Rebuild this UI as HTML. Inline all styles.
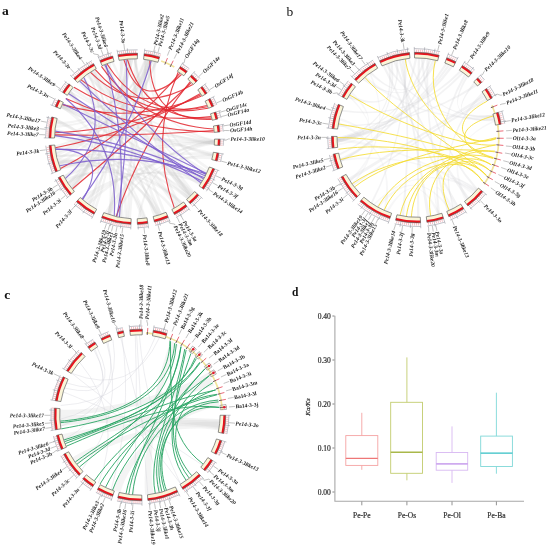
<!DOCTYPE html>
<html><head><meta charset="utf-8"><title>Figure</title>
<style>
html,body{margin:0;padding:0;background:#fff;}
body{width:550px;height:548px;overflow:hidden;}
svg{display:block;}
.lab text{font-family:"Liberation Serif",serif;font-style:italic;font-weight:bold;font-size:5.5px;fill:#222;}
.lab text.up{font-style:normal;}
.ax{font-family:"Liberation Serif",serif;font-size:7.5px;fill:#333;stroke:#333;stroke-width:0.22px;}
.axi{font-family:"Liberation Serif",serif;font-style:italic;font-size:7px;fill:#333;stroke:#333;stroke-width:0.2px;}
.pl{font-family:"Liberation Serif",serif;font-weight:bold;font-size:13.5px;fill:#111;}
</style></head><body>
<svg width="550" height="548" viewBox="0 0 550 548">
<rect width="550" height="548" fill="#fff"/>
<g>
<g class="lab">
<path d="M119.4,60.54 A79.7,79.7 0 0 1 122.46,60.01 Q128.27,138.34 110.95,214.94 A79.7,79.7 0 0 1 107.31,213.72 Q127.1,138.22 119.4,60.54 Z" fill="#c8c8c8" fill-opacity="0.2"/>
<path d="M123.01,59.93 A79.7,79.7 0 0 1 126.09,59.55 Q128.76,138.21 110.14,214.69 A79.7,79.7 0 0 1 107.49,213.78 Q127.76,138.12 123.01,59.93 Z" fill="#c8c8c8" fill-opacity="0.2"/>
<path d="M126.64,59.49 A79.7,79.7 0 0 1 129.73,59.24 Q143.59,134.68 191.22,194.79 A79.7,79.7 0 0 1 189.7,196.29 Q142.78,134.98 126.64,59.49 Z" fill="#c8c8c8" fill-opacity="0.2"/>
<path d="M130.29,59.21 A79.7,79.7 0 0 1 133.39,59.11 Q121.17,129.55 59.45,165.63 A79.7,79.7 0 0 1 58.43,162.59 Q120.45,129.04 130.29,59.21 Z" fill="#c8c8c8" fill-opacity="0.2"/>
<path d="M133.94,59.1 A79.7,79.7 0 0 1 137.05,59.14 Q133.92,138.77 128.65,218.29 A79.7,79.7 0 0 1 126.23,218.07 Q132.96,138.73 133.94,59.1 Z" fill="#c8c8c8" fill-opacity="0.2"/>
<path d="M143.8,59.64 A79.7,79.7 0 0 1 146.88,60.07 Q123.87,119.48 61.37,107.11 A79.7,79.7 0 0 1 63.01,103.58 Q123.62,118.78 143.8,59.64 Z" fill="#c8c8c8" fill-opacity="0.2"/>
<path d="M147.43,60.16 A79.7,79.7 0 0 1 150.49,60.72 Q125.29,132.23 65.87,179.32 A79.7,79.7 0 0 1 63.86,175.71 Q124.4,131.5 147.43,60.16 Z" fill="#c8c8c8" fill-opacity="0.2"/>
<path d="M151.03,60.83 A79.7,79.7 0 0 1 154.06,61.54 Q124.31,128.32 56.71,156.15 A79.7,79.7 0 0 1 56.02,152.7 Q123.66,127.59 151.03,60.83 Z" fill="#c8c8c8" fill-opacity="0.2"/>
<path d="M154.6,61.68 A79.7,79.7 0 0 1 157.59,62.52 Q127.03,133.32 68.72,183.8 A79.7,79.7 0 0 1 67.77,182.38 Q126.34,132.93 154.6,61.68 Z" fill="#c8c8c8" fill-opacity="0.2"/>
<path d="M214.2,139.4 A79.7,79.7 0 0 1 214.14,141.81 Q148.24,125.38 133.36,59.11 A79.7,79.7 0 0 1 135.12,59.1 Q148.56,124.96 214.2,139.4 Z" fill="#c8c8c8" fill-opacity="0.2"/>
<path d="M214.12,142.37 A79.7,79.7 0 0 1 213.98,144.78 Q137.07,131.73 69.69,92.41 A79.7,79.7 0 0 1 70.72,91 Q137.27,131.06 214.12,142.37 Z" fill="#c8c8c8" fill-opacity="0.2"/>
<path d="M213.02,152.48 A79.7,79.7 0 0 1 212.41,155.59 Q135.27,136.35 60.99,107.99 A79.7,79.7 0 0 1 62.27,105.11 Q135.6,135.3 213.02,152.48 Z" fill="#c8c8c8" fill-opacity="0.2"/>
<path d="M212.29,156.14 A79.7,79.7 0 0 1 211.54,159.23 Q140.12,153.9 89.58,204.64 A79.7,79.7 0 0 1 86.92,202.74 Q139.79,153.02 212.29,156.14 Z" fill="#c8c8c8" fill-opacity="0.2"/>
<path d="M208.99,167.14 A79.7,79.7 0 0 1 207.86,169.95 Q149.51,130.47 146.91,60.07 A79.7,79.7 0 0 1 149.68,60.56 Q150.19,130.07 208.99,167.14 Z" fill="#c8c8c8" fill-opacity="0.2"/>
<path d="M207.64,170.46 A79.7,79.7 0 0 1 206.39,173.21 Q139.3,133.25 90.05,72.65 A79.7,79.7 0 0 1 93.57,70.42 Q140.14,132.37 207.64,170.46 Z" fill="#c8c8c8" fill-opacity="0.2"/>
<path d="M206.15,173.71 A79.7,79.7 0 0 1 204.77,176.41 Q133.6,149.89 59.08,164.58 A79.7,79.7 0 0 1 58.32,162.24 Q133.71,149.01 206.15,173.71 Z" fill="#c8c8c8" fill-opacity="0.2"/>
<path d="M204.51,176.9 A79.7,79.7 0 0 1 203.01,179.53 Q132.91,149.11 56.9,156.99 A79.7,79.7 0 0 1 56.52,155.29 Q133.11,148.35 204.51,176.9 Z" fill="#c8c8c8" fill-opacity="0.2"/>
<path d="M202.72,180 A79.7,79.7 0 0 1 201.11,182.56 Q149.45,132.91 153.32,61.35 A79.7,79.7 0 0 1 155.9,62.03 Q150.18,132.58 202.72,180 Z" fill="#c8c8c8" fill-opacity="0.2"/>
<path d="M200.8,183.03 A79.7,79.7 0 0 1 199.08,185.51 Q132.9,141.67 60.78,108.51 A79.7,79.7 0 0 1 61.5,106.82 Q133.33,140.94 200.8,183.03 Z" fill="#c8c8c8" fill-opacity="0.2"/>
<path d="M194.21,191.59 A79.7,79.7 0 0 1 192.05,193.94 Q144.43,134.5 133.71,59.1 A79.7,79.7 0 0 1 135.91,59.11 Q145.2,134.09 194.21,191.59 Z" fill="#c8c8c8" fill-opacity="0.2"/>
<path d="M191.66,194.34 A79.7,79.7 0 0 1 189.39,196.59 Q144,134.97 133.91,59.1 A79.7,79.7 0 0 1 136.75,59.13 Q144.9,134.58 191.66,194.34 Z" fill="#c8c8c8" fill-opacity="0.2"/>
<path d="M188.98,196.97 A79.7,79.7 0 0 1 186.61,199.11 Q130.86,143.73 61.57,106.66 A79.7,79.7 0 0 1 62.71,104.19 Q131.47,142.92 188.98,196.97 Z" fill="#c8c8c8" fill-opacity="0.2"/>
<path d="M183.16,201.92 A79.7,79.7 0 0 1 180.81,203.66 Q129.37,154.56 58.9,164.02 A79.7,79.7 0 0 1 57.83,160.56 Q129.6,153.65 183.16,201.92 Z" fill="#c8c8c8" fill-opacity="0.2"/>
<path d="M180.36,203.98 A79.7,79.7 0 0 1 177.94,205.62 Q143.76,136.65 143.97,59.67 A79.7,79.7 0 0 1 146.4,59.99 Q144.61,136.42 180.36,203.98 Z" fill="#c8c8c8" fill-opacity="0.2"/>
<path d="M177.47,205.92 A79.7,79.7 0 0 1 174.98,207.46 Q129.96,143.1 68.11,94.71 A79.7,79.7 0 0 1 70.15,91.78 Q130.76,142.32 177.47,205.92 Z" fill="#c8c8c8" fill-opacity="0.2"/>
<path d="M174.5,207.74 A79.7,79.7 0 0 1 171.94,209.16 Q128.16,156.43 60.82,169.19 A79.7,79.7 0 0 1 59.58,165.98 Q128.39,155.62 174.5,207.74 Z" fill="#c8c8c8" fill-opacity="0.2"/>
<path d="M165.67,212.15 A79.7,79.7 0 0 1 163.05,213.21 Q134.13,138.95 103.86,65.22 A79.7,79.7 0 0 1 107.28,63.89 Q135.19,138.53 165.67,212.15 Z" fill="#c8c8c8" fill-opacity="0.2"/>
<path d="M162.53,213.41 A79.7,79.7 0 0 1 159.86,214.36 Q125.01,151.29 54.91,134.61 A79.7,79.7 0 0 1 55.11,131.83 Q125.51,150.64 162.53,213.41 Z" fill="#c8c8c8" fill-opacity="0.2"/>
<path d="M159.33,214.53 A79.7,79.7 0 0 1 156.63,215.37 Q125,156.15 58.06,161.37 A79.7,79.7 0 0 1 57.34,158.75 Q125.34,155.55 159.33,214.53 Z" fill="#c8c8c8" fill-opacity="0.2"/>
<path d="M156.1,215.52 A79.7,79.7 0 0 1 153.36,216.24 Q128.46,141.99 81.15,79.59 A79.7,79.7 0 0 1 83.2,77.8 Q129.3,141.55 156.1,215.52 Z" fill="#c8c8c8" fill-opacity="0.2"/>
<path d="M146.65,217.57 A79.7,79.7 0 0 1 143.98,217.93 Q122.49,149.86 56.4,122.89 A79.7,79.7 0 0 1 57.26,119.15 Q123.11,149.15 146.65,217.57 Z" fill="#c8c8c8" fill-opacity="0.2"/>
<path d="M143.43,218 A79.7,79.7 0 0 1 140.74,218.26 Q121.65,152.47 54.81,137.43 A79.7,79.7 0 0 1 54.99,133.27 Q122.15,151.69 143.43,218 Z" fill="#c8c8c8" fill-opacity="0.2"/>
<path d="M140.18,218.3 A79.7,79.7 0 0 1 137.49,218.44 Q148.96,153.25 214.15,141.73 A79.7,79.7 0 0 1 214,144.38 Q149.41,153.69 140.18,218.3 Z" fill="#c8c8c8" fill-opacity="0.2"/>
<path d="M130.93,218.42 A79.7,79.7 0 0 1 127.97,218.23 Q135.3,138.89 145.59,59.88 A79.7,79.7 0 0 1 147.34,60.14 Q136.12,138.97 130.93,218.42 Z" fill="#c8c8c8" fill-opacity="0.2"/>
<path d="M127.42,218.18 A79.7,79.7 0 0 1 124.48,217.87 Q124.99,141.04 90.2,72.55 A79.7,79.7 0 0 1 92.14,71.29 Q125.85,140.88 127.42,218.18 Z" fill="#c8c8c8" fill-opacity="0.2"/>
<path d="M123.92,217.8 A79.7,79.7 0 0 1 121,217.35 Q119.3,147.09 61.15,107.63 A79.7,79.7 0 0 1 62.69,104.22 Q120.08,146.57 123.92,217.8 Z" fill="#c8c8c8" fill-opacity="0.2"/>
<path d="M120.45,217.25 A79.7,79.7 0 0 1 117.55,216.68 Q134.39,138.78 150.82,60.79 A79.7,79.7 0 0 1 152.67,61.2 Q135.22,138.95 120.45,217.25 Z" fill="#c8c8c8" fill-opacity="0.2"/>
<path d="M117.01,216.56 A79.7,79.7 0 0 1 114.13,215.85 Q144.61,155.01 212.67,154.36 A79.7,79.7 0 0 1 212.31,156.03 Q145.06,155.42 117.01,216.56 Z" fill="#c8c8c8" fill-opacity="0.2"/>
<path d="M113.59,215.71 A79.7,79.7 0 0 1 110.75,214.88 Q122.08,140.88 87.27,74.6 A79.7,79.7 0 0 1 88.88,73.44 Q122.86,140.82 113.59,215.71 Z" fill="#c8c8c8" fill-opacity="0.2"/>
<path d="M110.22,214.71 A79.7,79.7 0 0 1 107.42,213.76 Q143.71,152.07 214.2,139.68 A79.7,79.7 0 0 1 214.06,143.52 Q144.17,152.91 110.22,214.71 Z" fill="#c8c8c8" fill-opacity="0.2"/>
<path d="M106.9,213.57 A79.7,79.7 0 0 1 104.14,212.49 Q143.13,151.92 214.19,140.07 A79.7,79.7 0 0 1 214.11,142.51 Q143.6,152.53 106.9,213.57 Z" fill="#c8c8c8" fill-opacity="0.2"/>
<path d="M96.56,208.89 A79.7,79.7 0 0 1 94.11,207.51 Q122.13,137.92 104.2,65.09 A79.7,79.7 0 0 1 106.33,64.24 Q122.93,138.02 96.56,208.89 Z" fill="#c8c8c8" fill-opacity="0.2"/>
<path d="M93.63,207.22 A79.7,79.7 0 0 1 91.25,205.74 Q119.73,138.57 93.37,70.53 A79.7,79.7 0 0 1 95.24,69.44 Q120.48,138.64 93.63,207.22 Z" fill="#c8c8c8" fill-opacity="0.2"/>
<path d="M90.78,205.44 A79.7,79.7 0 0 1 88.46,203.86 Q115.01,142.2 69.16,93.16 A79.7,79.7 0 0 1 71.03,90.59 Q115.74,142.03 90.78,205.44 Z" fill="#c8c8c8" fill-opacity="0.2"/>
<path d="M88.01,203.54 A79.7,79.7 0 0 1 85.76,201.86 Q128.67,136.15 149.95,60.61 A79.7,79.7 0 0 1 151.85,61.01 Q129.4,136.52 88.01,203.54 Z" fill="#c8c8c8" fill-opacity="0.2"/>
<path d="M85.32,201.52 A79.7,79.7 0 0 1 83.14,199.74 Q137.56,156.5 203.32,178.99 A79.7,79.7 0 0 1 202.15,180.93 Q137.73,157.15 85.32,201.52 Z" fill="#c8c8c8" fill-opacity="0.2"/>
<path d="M82.72,199.38 A79.7,79.7 0 0 1 80.61,197.52 Q136.81,156.61 201.59,181.83 A79.7,79.7 0 0 1 200.08,184.1 Q136.91,157.33 82.72,199.38 Z" fill="#c8c8c8" fill-opacity="0.2"/>
<path d="M74.37,191.11 A79.7,79.7 0 0 1 72.61,189.01 Q114.24,137.31 80.64,80.05 A79.7,79.7 0 0 1 82.44,78.46 Q114.87,137.39 74.37,191.11 Z" fill="#c8c8c8" fill-opacity="0.2"/>
<path d="M72.26,188.58 A79.7,79.7 0 0 1 70.58,186.41 Q125.95,133.44 149.54,60.53 A79.7,79.7 0 0 1 151.48,60.93 Q126.58,133.88 72.26,188.58 Z" fill="#c8c8c8" fill-opacity="0.2"/>
<path d="M70.25,185.96 A79.7,79.7 0 0 1 68.67,183.73 Q126.46,133.16 154.37,61.62 A79.7,79.7 0 0 1 156.66,62.24 Q127.13,133.66 70.25,185.96 Z" fill="#c8c8c8" fill-opacity="0.2"/>
<path d="M68.36,183.27 A79.7,79.7 0 0 1 66.87,180.97 Q136.4,148.61 212.98,152.7 A79.7,79.7 0 0 1 212.28,156.18 Q136.54,149.62 68.36,183.27 Z" fill="#c8c8c8" fill-opacity="0.2"/>
<path d="M66.58,180.5 A79.7,79.7 0 0 1 65.19,178.14 Q130.8,156.8 182.65,202.31 A79.7,79.7 0 0 1 180.41,203.95 Q130.65,157.5 66.58,180.5 Z" fill="#c8c8c8" fill-opacity="0.2"/>
<path d="M64.91,177.66 A79.7,79.7 0 0 1 63.62,175.24 Q136.04,145.56 214.17,141 A79.7,79.7 0 0 1 214.07,143.37 Q136.25,146.4 64.91,177.66 Z" fill="#c8c8c8" fill-opacity="0.2"/>
<path d="M60.91,169.4 A79.7,79.7 0 0 1 59.94,166.96 Q135.4,143.92 214.19,139.88 A79.7,79.7 0 0 1 214.14,141.78 Q135.56,144.68 60.91,169.4 Z" fill="#c8c8c8" fill-opacity="0.2"/>
<path d="M59.75,166.44 A79.7,79.7 0 0 1 58.87,163.96 Q125.77,156.4 160.24,214.23 A79.7,79.7 0 0 1 156.3,215.46 Q125.23,157.05 59.75,166.44 Z" fill="#c8c8c8" fill-opacity="0.2"/>
<path d="M58.7,163.43 A79.7,79.7 0 0 1 57.93,160.92 Q123.08,156.48 145.81,217.69 A79.7,79.7 0 0 1 142.7,218.08 Q122.67,156.98 58.7,163.43 Z" fill="#c8c8c8" fill-opacity="0.2"/>
<path d="M57.78,160.38 A79.7,79.7 0 0 1 57.11,157.84 Q119.44,128.27 125.86,59.57 A79.7,79.7 0 0 1 129.82,59.24 Q120.26,128.65 57.78,160.38 Z" fill="#c8c8c8" fill-opacity="0.2"/>
<path d="M56.98,157.3 A79.7,79.7 0 0 1 56.41,154.73 Q130.43,151.71 189.35,196.63 A79.7,79.7 0 0 1 186.81,198.93 Q130.09,152.56 56.98,157.3 Z" fill="#c8c8c8" fill-opacity="0.2"/>
<path d="M56.3,154.18 A79.7,79.7 0 0 1 55.83,151.6 Q118.28,127.31 120.47,60.34 A79.7,79.7 0 0 1 123.6,59.85 Q118.91,127.68 56.3,154.18 Z" fill="#c8c8c8" fill-opacity="0.2"/>
<path d="M55.75,151.05 A79.7,79.7 0 0 1 55.39,148.44 Q122.87,126.72 147.15,60.11 A79.7,79.7 0 0 1 150.59,60.74 Q123.53,127.28 55.75,151.05 Z" fill="#c8c8c8" fill-opacity="0.2"/>
<path d="M55.32,147.89 A79.7,79.7 0 0 1 55.06,145.28 Q123.38,126.27 150.4,60.7 A79.7,79.7 0 0 1 152.22,61.09 Q123.74,126.79 55.32,147.89 Z" fill="#c8c8c8" fill-opacity="0.2"/>
<path d="M54.81,137.73 A79.7,79.7 0 0 1 54.89,135 Q119.69,124.21 129.49,59.26 A79.7,79.7 0 0 1 133.41,59.11 Q120.36,124.67 54.81,137.73 Z" fill="#c8c8c8" fill-opacity="0.2"/>
<path d="M54.92,134.44 A79.7,79.7 0 0 1 55.12,131.72 Q134.55,137.94 214.17,140.98 A79.7,79.7 0 0 1 213.99,144.63 Q134.48,139.06 54.92,134.44 Z" fill="#c8c8c8" fill-opacity="0.2"/>
<path d="M55.17,131.17 A79.7,79.7 0 0 1 55.47,128.45 Q130.62,146.76 191.37,194.64 A79.7,79.7 0 0 1 190.03,195.97 Q130.33,147.47 55.17,131.17 Z" fill="#c8c8c8" fill-opacity="0.2"/>
<path d="M55.55,127.9 A79.7,79.7 0 0 1 55.97,125.2 Q123.13,122.68 148.03,60.26 A79.7,79.7 0 0 1 151.81,61 Q123.71,123.28 55.55,127.9 Z" fill="#c8c8c8" fill-opacity="0.2"/>
<path d="M56.07,124.65 A79.7,79.7 0 0 1 56.6,121.98 Q119.6,121.97 127.28,59.43 A79.7,79.7 0 0 1 131.11,59.17 Q120.18,122.39 56.07,124.65 Z" fill="#c8c8c8" fill-opacity="0.2"/>
<path d="M56.72,121.43 A79.7,79.7 0 0 1 57.36,118.78 Q118.78,149.06 121.79,217.48 A79.7,79.7 0 0 1 118.51,216.88 Q118.09,149.42 56.72,121.43 Z" fill="#c8c8c8" fill-opacity="0.2"/>
<path d="M60.75,108.58 A79.7,79.7 0 0 1 61.91,105.89 Q123.58,119.21 144.67,59.75 A79.7,79.7 0 0 1 147.83,60.22 Q123.93,119.76 60.75,108.58 Z" fill="#c8c8c8" fill-opacity="0.2"/>
<path d="M62.14,105.39 A79.7,79.7 0 0 1 63.42,102.75 Q136,132.79 214.18,140.48 A79.7,79.7 0 0 1 213.99,144.63 Q135.75,133.97 62.14,105.39 Z" fill="#c8c8c8" fill-opacity="0.2"/>
<path d="M67.74,95.26 A79.7,79.7 0 0 1 69.25,93.03 Q127.29,144.09 158.54,214.79 A79.7,79.7 0 0 1 156.01,215.54 Q126.58,144.61 67.74,95.26 Z" fill="#c8c8c8" fill-opacity="0.2"/>
<path d="M69.57,92.58 A79.7,79.7 0 0 1 71.17,90.41 Q119.22,143.63 110.51,214.8 A79.7,79.7 0 0 1 107.88,213.92 Q118.48,143.86 69.57,92.58 Z" fill="#c8c8c8" fill-opacity="0.2"/>
<path d="M71.51,89.97 A79.7,79.7 0 0 1 73.2,87.87 Q137.45,132.63 212.64,154.47 A79.7,79.7 0 0 1 212.01,157.37 Q137.04,133.5 71.51,89.97 Z" fill="#c8c8c8" fill-opacity="0.2"/>
<path d="M78.07,82.51 A79.7,79.7 0 0 1 80.06,80.59 Q132.79,140.16 179.19,204.79 A79.7,79.7 0 0 1 176.53,206.52 Q131.98,140.8 78.07,82.51 Z" fill="#c8c8c8" fill-opacity="0.2"/>
<path d="M80.47,80.21 A79.7,79.7 0 0 1 82.53,78.38 Q135.77,137.56 193.71,192.15 A79.7,79.7 0 0 1 190.91,195.1 Q134.92,138.4 80.47,80.21 Z" fill="#c8c8c8" fill-opacity="0.2"/>
<path d="M82.95,78.02 A79.7,79.7 0 0 1 85.08,76.27 Q114.49,135.95 69.59,185.04 A79.7,79.7 0 0 1 67.72,182.3 Q113.79,135.78 82.95,78.02 Z" fill="#c8c8c8" fill-opacity="0.2"/>
<path d="M85.52,75.92 A79.7,79.7 0 0 1 87.73,74.27 Q140.26,127.68 214.19,139.8 A79.7,79.7 0 0 1 214.12,142.39 Q139.86,128.42 85.52,75.92 Z" fill="#c8c8c8" fill-opacity="0.2"/>
<path d="M88.18,73.94 A79.7,79.7 0 0 1 90.45,72.38 Q115.94,135.94 72.51,188.9 A79.7,79.7 0 0 1 71.17,187.18 Q115.31,135.92 88.18,73.94 Z" fill="#c8c8c8" fill-opacity="0.2"/>
<path d="M90.92,72.07 A79.7,79.7 0 0 1 93.26,70.6 Q132.04,139.98 161.7,213.72 A79.7,79.7 0 0 1 158.55,214.78 Q131.08,140.42 90.92,72.07 Z" fill="#c8c8c8" fill-opacity="0.2"/>
<path d="M93.73,70.32 A79.7,79.7 0 0 1 96.13,68.94 Q137.58,136.51 190.45,195.56 A79.7,79.7 0 0 1 188.65,197.28 Q136.84,137.05 93.73,70.32 Z" fill="#c8c8c8" fill-opacity="0.2"/>
<path d="M102.49,65.81 A79.7,79.7 0 0 1 104.89,64.81 Q139.04,135.85 190.09,195.92 A79.7,79.7 0 0 1 187.71,198.14 Q138.21,136.41 102.49,65.81 Z" fill="#c8c8c8" fill-opacity="0.2"/>
<path d="M105.4,64.6 A79.7,79.7 0 0 1 107.84,63.69 Q139.97,135.23 192.44,193.53 A79.7,79.7 0 0 1 189.71,196.28 Q139.07,135.87 105.4,64.6 Z" fill="#c8c8c8" fill-opacity="0.2"/>
<path d="M108.36,63.51 A79.7,79.7 0 0 1 110.83,62.7 Q119.48,134.21 72.32,188.65 A79.7,79.7 0 0 1 69.91,185.49 Q118.62,133.8 108.36,63.51 Z" fill="#c8c8c8" fill-opacity="0.2"/>
<path d="M111.36,62.53 A79.7,79.7 0 0 1 113.86,61.82 Q142.76,132.65 202.33,180.65 A79.7,79.7 0 0 1 200.75,183.1 Q142.04,133.21 111.36,62.53 Z" fill="#c8c8c8" fill-opacity="0.2"/>
<path d="M178.14,72.23Q149.09,139.22 174.24,207.77" fill="none" stroke="#e2262e" stroke-width="1.1" stroke-opacity="0.85"/>
<path d="M190.05,81.79Q141.04,142.38 116.3,216.29" fill="none" stroke="#e2262e" stroke-width="1.1" stroke-opacity="0.85"/>
<path d="M191.03,82.76Q133.55,137.74 72.55,188.79" fill="none" stroke="#e2262e" stroke-width="1.1" stroke-opacity="0.85"/>
<path d="M200.07,93.68Q132.13,132.47 55.4,147.75" fill="none" stroke="#e2262e" stroke-width="1.1" stroke-opacity="0.85"/>
<path d="M200.85,94.82Q132.22,130.06 55.13,132.81" fill="none" stroke="#e2262e" stroke-width="1.1" stroke-opacity="0.85"/>
<path d="M206.81,105.52Q137.79,122.66 80.99,79.87" fill="none" stroke="#e2262e" stroke-width="1.1" stroke-opacity="0.85"/>
<path d="M207.38,106.78Q142.45,120.12 107.06,64.08" fill="none" stroke="#e2262e" stroke-width="1.1" stroke-opacity="0.85"/>
<path d="M211.36,118.09Q146.71,121.3 127.4,59.52" fill="none" stroke="#e2262e" stroke-width="1.1" stroke-opacity="0.85"/>
<path d="M211.7,119.42Q150.69,121.74 149.82,60.69" fill="none" stroke="#e2262e" stroke-width="1.1" stroke-opacity="0.85"/>
<path d="M213.67,130.55Q134.44,136.68 55,134.91" fill="none" stroke="#e2262e" stroke-width="1.1" stroke-opacity="0.85"/>
<path d="M213.8,131.93Q136.37,130.54 65.86,98.49" fill="none" stroke="#e2262e" stroke-width="1.1" stroke-opacity="0.85"/>
<path d="M179.74,73.3Q129.49,132.53 60.63,168.45" fill="none" stroke="#e2262e" stroke-width="1.1" stroke-opacity="0.85"/>
<path d="M207.97,108.18Q140.49,121.32 95.25,69.55" fill="none" stroke="#e2262e" stroke-width="1.1" stroke-opacity="0.85"/>
<path d="M210.95,116.63Q137.28,125.88 73.93,87.16" fill="none" stroke="#e2262e" stroke-width="1.1" stroke-opacity="0.85"/>
<path d="M201.6,95.97Q133.66,125.33 62.6,104.64" fill="none" stroke="#e2262e" stroke-width="1.1" stroke-opacity="0.85"/>
<path d="M192.75,84.55Q137,117.7 90.52,72.46" fill="none" stroke="#e2262e" stroke-width="1.1" stroke-opacity="0.85"/>
<path d="M213.5,129.04Q142.54,124.42 101.42,66.4" fill="none" stroke="#e2262e" stroke-width="1.1" stroke-opacity="0.85"/>
<path d="M181.42,74.5Q140.87,113.74 123.96,59.9" fill="none" stroke="#e2262e" stroke-width="1.1" stroke-opacity="0.85"/>
<path d="M105.89,64.52Q126.86,139.48 119.44,216.96" fill="none" stroke="#7a5ccc" stroke-width="1.1" stroke-opacity="0.85"/>
<path d="M126.16,59.64Q129.97,138.54 116.98,216.45" fill="none" stroke="#7a5ccc" stroke-width="1.1" stroke-opacity="0.85"/>
<path d="M151.17,60.97Q128.28,135.69 82.26,198.86" fill="none" stroke="#7a5ccc" stroke-width="1.1" stroke-opacity="0.85"/>
<path d="M104.73,64.98Q141.75,132.11 205.68,174.42" fill="none" stroke="#7a5ccc" stroke-width="1.1" stroke-opacity="0.85"/>
<path d="M62.9,104.01Q134.53,138.73 206.29,173.18" fill="none" stroke="#7a5ccc" stroke-width="1.1" stroke-opacity="0.85"/>
<path d="M55.27,131.14Q132.98,143.91 205.05,175.65" fill="none" stroke="#7a5ccc" stroke-width="1.1" stroke-opacity="0.85"/>
<path d="M55.63,149.55Q132.87,147.45 204.07,177.48" fill="none" stroke="#7a5ccc" stroke-width="1.1" stroke-opacity="0.85"/>
<path d="M65.45,178.39Q113.55,134.99 83.82,77.42" fill="none" stroke="#7a5ccc" stroke-width="1.1" stroke-opacity="0.85"/>
<path d="M68.85,93.78Q135.07,137.9 203.39,178.69" fill="none" stroke="#7a5ccc" stroke-width="1.1" stroke-opacity="0.85"/>
<path d="M82.9,199.41Q111.65,151.17 55.54,148.86" fill="none" stroke="#7a5ccc" stroke-width="1.1" stroke-opacity="0.85"/>
<path d="M79.66,81.1Q136.51,136.4 200.83,182.81" fill="none" stroke="#7a5ccc" stroke-width="1.1" stroke-opacity="0.85"/>
<path d="M54.96,135.6Q132.39,145.64 201.96,181.06" fill="none" stroke="#7a5ccc" stroke-width="1.1" stroke-opacity="0.85"/>
<path d="M59.63,165.83Q133.91,149.66 205.99,173.8" fill="none" stroke="#7a5ccc" stroke-width="1.1" stroke-opacity="0.85"/>
<path d="M65.86,98.49Q118.95,145.22 114.27,215.79" fill="none" stroke="#7a5ccc" stroke-width="1.1" stroke-opacity="0.85"/>
<path d="M118.43,57.06 A83.3,83.3 0 0 1 137.45,55.55 L137.33,58.85 A80,80 0 0 0 119.07,60.3 Z" fill="#faf5d8"/>
<path d="M117.99,54.81 A85.6,85.6 0 0 1 137.53,53.25 L137.45,55.55 A83.3,83.3 0 0 0 118.43,57.06 Z" fill="#e8141c"/>
<path d="M119.91,54.35L119.48,51.89M121.85,54.04L121.48,51.57M123.81,53.77L123.49,51.29M125.76,53.55L125.51,51.06M129.69,53.24L129.55,50.74M131.66,53.15L131.58,50.65M133.63,53.1L133.6,50.6M135.6,53.11L135.63,50.61" stroke="#f07a84" stroke-width="0.5"/>
<path d="M117.99,54.81L117.01,49.8M127.73,53.47L127.33,48.38" stroke="#7a7a86" stroke-width="0.45"/>
<path d="M117.34,51.47 A89,89 0 0 1 137.65,49.86" fill="none" stroke="#8e8e9a" stroke-width="0.55"/>
<path d="M117.99,54.81 A85.6,85.6 0 0 1 137.53,53.25 L137.33,58.85 A80,80 0 0 0 119.07,60.3 Z" fill="none" stroke="#555" stroke-width="0.65"/>
<path d="M143.93,56.04 A83.3,83.3 0 0 1 158.91,59.16 L157.94,62.31 A80,80 0 0 0 143.56,59.31 Z" fill="#faf5d8"/>
<path d="M144.19,53.75 A85.6,85.6 0 0 1 159.58,56.96 L158.91,59.16 A83.3,83.3 0 0 0 143.93,56.04 Z" fill="#e8141c"/>
<path d="M146.16,53.9L146.5,51.42M148.1,54.19L148.5,51.72M150.05,54.52L150.5,52.06M151.98,54.9L152.49,52.45M155.82,55.79L156.44,53.37M157.72,56.31L158.4,53.9M159.61,56.86L160.34,54.47" stroke="#f07a84" stroke-width="0.5"/>
<path d="M144.19,53.75L144.77,48.68M153.88,55.42L155.04,50.46" stroke="#7a7a86" stroke-width="0.45"/>
<path d="M144.58,50.37 A89,89 0 0 1 160.58,53.71" fill="none" stroke="#8e8e9a" stroke-width="0.55"/>
<path d="M144.19,53.75 A85.6,85.6 0 0 1 159.58,56.96 L157.94,62.31 A80,80 0 0 0 143.56,59.31 Z" fill="none" stroke="#555" stroke-width="0.65"/>
<path d="M179.13,68.47 A83.3,83.3 0 0 1 185.78,73.16 L183.75,75.76 A80,80 0 0 0 177.37,71.25 Z" fill="#faf5d8"/>
<path d="M180.37,66.53 A85.6,85.6 0 0 1 187.2,71.35 L185.78,73.16 A83.3,83.3 0 0 0 179.13,68.47 Z" fill="#e8141c"/>
<path d="M182.07,67.52L183.46,65.44M183.7,68.63L185.13,66.58M185.3,69.78L186.78,67.76M186.87,70.96L188.4,68.98" stroke="#f07a84" stroke-width="0.5"/>
<path d="M180.37,66.53L183.1,62.22" stroke="#7a7a86" stroke-width="0.45"/>
<path d="M182.19,63.65 A89,89 0 0 1 189.29,68.67" fill="none" stroke="#8e8e9a" stroke-width="0.55"/>
<path d="M180.37,66.53 A85.6,85.6 0 0 1 187.2,71.35 L183.75,75.76 A80,80 0 0 0 177.37,71.25 Z" fill="none" stroke="#555" stroke-width="0.65"/>
<path d="M190.02,76.7 A83.3,83.3 0 0 1 195.72,82.31 L193.29,84.55 A80,80 0 0 0 187.82,79.16 Z" fill="#faf5d8"/>
<path d="M191.56,74.99 A85.6,85.6 0 0 1 197.41,80.75 L195.72,82.31 A83.3,83.3 0 0 0 190.02,76.7 Z" fill="#e8141c"/>
<path d="M193.08,76.24L194.78,74.42M194.5,77.61L196.25,75.82M195.89,79L197.68,77.26M197.25,80.43L199.08,78.72" stroke="#f07a84" stroke-width="0.5"/>
<path d="M191.56,74.99L194.95,71.19" stroke="#7a7a86" stroke-width="0.45"/>
<path d="M193.82,72.45 A89,89 0 0 1 199.91,78.44" fill="none" stroke="#8e8e9a" stroke-width="0.55"/>
<path d="M191.56,74.99 A85.6,85.6 0 0 1 197.41,80.75 L193.29,84.55 A80,80 0 0 0 187.82,79.16 Z" fill="none" stroke="#555" stroke-width="0.65"/>
<path d="M200.41,87.86 A83.3,83.3 0 0 1 204.99,94.41 L202.2,96.17 A80,80 0 0 0 197.8,89.88 Z" fill="#faf5d8"/>
<path d="M202.23,86.45 A85.6,85.6 0 0 1 206.93,93.19 L204.99,94.41 A83.3,83.3 0 0 0 200.41,87.86 Z" fill="#e8141c"/>
<path d="M203.49,87.96L205.51,86.48M204.64,89.56L206.69,88.13M205.76,91.19L207.84,89.8M206.83,92.84L208.94,91.5" stroke="#f07a84" stroke-width="0.5"/>
<path d="M202.23,86.45L206.26,83.33" stroke="#7a7a86" stroke-width="0.45"/>
<path d="M204.92,84.37 A89,89 0 0 1 209.81,91.37" fill="none" stroke="#8e8e9a" stroke-width="0.55"/>
<path d="M202.23,86.45 A85.6,85.6 0 0 1 206.93,93.19 L202.2,96.17 A80,80 0 0 0 197.8,89.88 Z" fill="none" stroke="#555" stroke-width="0.65"/>
<path d="M208.05,99.69 A83.3,83.3 0 0 1 211.51,107.06 L208.46,108.31 A80,80 0 0 0 205.14,101.24 Z" fill="#faf5d8"/>
<path d="M210.08,98.61 A85.6,85.6 0 0 1 213.64,106.18 L211.51,107.06 A83.3,83.3 0 0 0 208.05,99.69 Z" fill="#e8141c"/>
<path d="M211.07,100.32L213.31,99.19M211.94,102.09L214.2,101.02M212.76,103.88L215.04,102.86M213.54,105.68L215.85,104.72" stroke="#f07a84" stroke-width="0.5"/>
<path d="M210.08,98.61L214.58,96.22" stroke="#7a7a86" stroke-width="0.45"/>
<path d="M213.08,97.02 A89,89 0 0 1 216.78,104.88" fill="none" stroke="#8e8e9a" stroke-width="0.55"/>
<path d="M210.08,98.61 A85.6,85.6 0 0 1 213.64,106.18 L208.46,108.31 A80,80 0 0 0 205.14,101.24 Z" fill="none" stroke="#555" stroke-width="0.65"/>
<path d="M213.63,112.78 A83.3,83.3 0 0 1 215.53,119.5 L212.32,120.26 A80,80 0 0 0 210.5,113.81 Z" fill="#faf5d8"/>
<path d="M215.82,112.06 A85.6,85.6 0 0 1 217.77,118.96 L215.53,119.5 A83.3,83.3 0 0 0 213.63,112.78 Z" fill="#e8141c"/>
<path d="M216.51,113.91L218.9,113.19M217.06,115.8L219.47,115.13M217.56,117.71L219.99,117.09" stroke="#f07a84" stroke-width="0.5"/>
<path d="M215.82,112.06L220.66,110.47" stroke="#7a7a86" stroke-width="0.45"/>
<path d="M219.05,111 A89,89 0 0 1 221.08,118.17" fill="none" stroke="#8e8e9a" stroke-width="0.55"/>
<path d="M215.82,112.06 A85.6,85.6 0 0 1 217.77,118.96 L212.32,120.26 A80,80 0 0 0 210.5,113.81 Z" fill="none" stroke="#555" stroke-width="0.65"/>
<path d="M216.73,125.48 A83.3,83.3 0 0 1 217.53,132.12 L214.24,132.38 A80,80 0 0 0 213.47,126.01 Z" fill="#faf5d8"/>
<path d="M219,125.11 A85.6,85.6 0 0 1 219.82,131.93 L217.53,132.12 A83.3,83.3 0 0 0 216.73,125.48 Z" fill="#e8141c"/>
<path d="M219.39,127.05L221.87,126.7M219.64,129L222.12,128.71M219.84,130.96L222.33,130.73" stroke="#f07a84" stroke-width="0.5"/>
<path d="M219,125.11L224.03,124.3" stroke="#7a7a86" stroke-width="0.45"/>
<path d="M222.36,124.57 A89,89 0 0 1 223.21,131.66" fill="none" stroke="#8e8e9a" stroke-width="0.55"/>
<path d="M219,125.11 A85.6,85.6 0 0 1 219.82,131.93 L214.24,132.38 A80,80 0 0 0 213.47,126.01 Z" fill="none" stroke="#555" stroke-width="0.65"/>
<path d="M217.8,139.13 A83.3,83.3 0 0 1 217.54,145.34 L214.25,145.08 A80,80 0 0 0 214.5,139.12 Z" fill="#faf5d8"/>
<path d="M220.1,139.14 A85.6,85.6 0 0 1 219.84,145.52 L217.54,145.34 A83.3,83.3 0 0 0 217.8,139.13 Z" fill="#e8141c"/>
<path d="M220.17,141.11L222.67,141.18M220.09,143.08L222.59,143.21M219.97,145.05L222.47,145.23" stroke="#f07a84" stroke-width="0.5"/>
<path d="M220.1,139.14L225.2,139.16" stroke="#7a7a86" stroke-width="0.45"/>
<path d="M223.5,139.16 A89,89 0 0 1 223.23,145.78" fill="none" stroke="#8e8e9a" stroke-width="0.55"/>
<path d="M220.1,139.14 A85.6,85.6 0 0 1 219.84,145.52 L214.25,145.08 A80,80 0 0 0 214.5,139.12 Z" fill="none" stroke="#555" stroke-width="0.65"/>
<path d="M216.61,152.81 A83.3,83.3 0 0 1 214.94,160.43 L211.76,159.57 A80,80 0 0 0 213.36,152.25 Z" fill="#faf5d8"/>
<path d="M218.88,153.19 A85.6,85.6 0 0 1 217.16,161.03 L214.94,160.43 A83.3,83.3 0 0 0 216.61,152.81 Z" fill="#e8141c"/>
<path d="M218.63,155.15L221.08,155.63M218.23,157.08L220.67,157.61M217.79,159L220.22,159.59M217.3,160.91L219.72,161.55" stroke="#f07a84" stroke-width="0.5"/>
<path d="M218.88,153.19L223.91,154.05" stroke="#7a7a86" stroke-width="0.45"/>
<path d="M222.23,153.76 A89,89 0 0 1 220.45,161.91" fill="none" stroke="#8e8e9a" stroke-width="0.55"/>
<path d="M218.88,153.19 A85.6,85.6 0 0 1 217.16,161.03 L211.76,159.57 A80,80 0 0 0 213.36,152.25 Z" fill="none" stroke="#555" stroke-width="0.65"/>
<path d="M212.46,168.15 A83.3,83.3 0 0 1 201.82,187.86 L199.16,185.91 A80,80 0 0 0 209.37,166.99 Z" fill="#faf5d8"/>
<path d="M214.61,168.96 A85.6,85.6 0 0 1 203.68,189.21 L201.82,187.86 A83.3,83.3 0 0 0 212.46,168.15 Z" fill="#e8141c"/>
<path d="M213.99,170.83L216.31,171.76M213.23,172.65L215.53,173.64M212.43,174.45L214.71,175.49M211.59,176.23L213.84,177.32M209.79,179.74L211.99,180.93M208.83,181.46L211,182.7M207.83,183.15L209.97,184.45M206.79,184.83L208.9,186.17M204.6,188.1L206.64,189.54" stroke="#f07a84" stroke-width="0.5"/>
<path d="M214.61,168.96L219.38,170.76M210.62,177.95L215.16,180.28M205.63,186.42L209.87,189.26" stroke="#7a7a86" stroke-width="0.45"/>
<path d="M217.79,170.16 A89,89 0 0 1 206.43,191.21" fill="none" stroke="#8e8e9a" stroke-width="0.55"/>
<path d="M214.61,168.96 A85.6,85.6 0 0 1 203.68,189.21 L199.16,185.91 A80,80 0 0 0 209.37,166.99 Z" fill="none" stroke="#555" stroke-width="0.65"/>
<path d="M197.1,193.76 A83.3,83.3 0 0 1 188.74,202.02 L186.59,199.51 A80,80 0 0 0 194.62,191.58 Z" fill="#faf5d8"/>
<path d="M198.83,195.27 A85.6,85.6 0 0 1 190.24,203.76 L188.74,202.02 A83.3,83.3 0 0 0 197.1,193.76 Z" fill="#e8141c"/>
<path d="M197.59,196.81L199.43,198.5M196.24,198.24L198.04,199.97M194.85,199.64L196.61,201.42M193.44,201.01L195.16,202.83M190.52,203.66L192.15,205.55" stroke="#f07a84" stroke-width="0.5"/>
<path d="M198.83,195.27L202.66,198.64M191.93,202.28L195.35,206.06" stroke="#7a7a86" stroke-width="0.45"/>
<path d="M201.38,197.52 A89,89 0 0 1 192.45,206.34" fill="none" stroke="#8e8e9a" stroke-width="0.55"/>
<path d="M198.83,195.27 A85.6,85.6 0 0 1 190.24,203.76 L186.59,199.51 A80,80 0 0 0 194.62,191.58 Z" fill="none" stroke="#555" stroke-width="0.65"/>
<path d="M185.59,204.59 A83.3,83.3 0 0 1 173.38,212.47 L171.84,209.55 A80,80 0 0 0 183.57,201.99 Z" fill="#faf5d8"/>
<path d="M187,206.41 A85.6,85.6 0 0 1 174.45,214.51 L173.38,212.47 A83.3,83.3 0 0 0 185.59,204.59 Z" fill="#e8141c"/>
<path d="M185.49,207.68L186.98,209.69M183.9,208.83L185.34,210.88M182.27,209.95L183.67,212.03M180.62,211.03L181.97,213.14M177.26,213.07L178.5,215.24M175.54,214.04L176.73,216.23" stroke="#f07a84" stroke-width="0.5"/>
<path d="M187,206.41L190.13,210.44M178.9,211.98L181.54,216.35" stroke="#7a7a86" stroke-width="0.45"/>
<path d="M189.09,209.1 A89,89 0 0 1 176.04,217.51" fill="none" stroke="#8e8e9a" stroke-width="0.55"/>
<path d="M187,206.41 A85.6,85.6 0 0 1 174.45,214.51 L171.84,209.55 A80,80 0 0 0 183.57,201.99 Z" fill="none" stroke="#555" stroke-width="0.65"/>
<path d="M167.34,215.35 A83.3,83.3 0 0 1 153.93,219.8 L153.16,216.59 A80,80 0 0 0 166.04,212.32 Z" fill="#faf5d8"/>
<path d="M168.25,217.47 A85.6,85.6 0 0 1 154.47,222.04 L153.93,219.8 A83.3,83.3 0 0 0 167.34,215.35 Z" fill="#e8141c"/>
<path d="M166.47,218.31L167.4,220.63M164.63,219.03L165.51,221.37M162.78,219.7L163.61,222.06M160.91,220.33L161.68,222.71M157.14,221.46L157.8,223.87M155.23,221.95L155.84,224.38" stroke="#f07a84" stroke-width="0.5"/>
<path d="M168.25,217.47L170.26,222.15M159,220.82L160.46,225.7" stroke="#7a7a86" stroke-width="0.45"/>
<path d="M169.59,220.59 A89,89 0 0 1 155.26,225.34" fill="none" stroke="#8e8e9a" stroke-width="0.55"/>
<path d="M168.25,217.47 A85.6,85.6 0 0 1 154.47,222.04 L153.16,216.59 A80,80 0 0 0 166.04,212.32 Z" fill="none" stroke="#555" stroke-width="0.65"/>
<path d="M147.49,221.08 A83.3,83.3 0 0 1 137.33,222.05 L137.22,218.75 A80,80 0 0 0 146.97,217.82 Z" fill="#faf5d8"/>
<path d="M147.85,223.35 A85.6,85.6 0 0 1 137.41,224.35 L137.33,222.05 A83.3,83.3 0 0 0 147.49,221.08 Z" fill="#e8141c"/>
<path d="M145.91,223.74L146.25,226.21M143.96,223.98L144.23,226.46M142,224.17L142.22,226.66M140.03,224.32L140.19,226.82" stroke="#f07a84" stroke-width="0.5"/>
<path d="M147.85,223.35L148.64,228.39M138.06,224.33L138.27,229.42" stroke="#7a7a86" stroke-width="0.45"/>
<path d="M148.38,226.71 A89,89 0 0 1 137.53,227.75" fill="none" stroke="#8e8e9a" stroke-width="0.55"/>
<path d="M147.85,223.35 A85.6,85.6 0 0 1 137.41,224.35 L137.22,218.75 A80,80 0 0 0 146.97,217.82 Z" fill="none" stroke="#555" stroke-width="0.65"/>
<path d="M131.06,222.03 A83.3,83.3 0 0 1 102.5,215.71 L103.77,212.66 A80,80 0 0 0 131.19,218.73 Z" fill="#faf5d8"/>
<path d="M130.96,224.33 A85.6,85.6 0 0 1 101.62,217.83 L102.5,215.71 A83.3,83.3 0 0 0 131.06,222.03 Z" fill="#e8141c"/>
<path d="M128.99,224.32L128.83,226.82M127.02,224.17L126.81,226.66M125.06,223.98L124.79,226.46M123.11,223.74L122.78,226.22M119.22,223.13L118.77,225.59M117.28,222.75L116.78,225.2M115.36,222.33L114.8,224.77M113.44,221.87L112.83,224.3M109.65,220.82L108.92,223.21M107.77,220.22L106.99,222.6M105.9,219.59L105.07,221.94M104.05,218.91L103.17,221.25" stroke="#f07a84" stroke-width="0.5"/>
<path d="M130.96,224.33L130.75,229.42M121.17,223.36L120.38,228.39M111.56,221.27L110.2,226.18M102.26,218.1L100.34,222.82" stroke="#7a7a86" stroke-width="0.45"/>
<path d="M130.82,227.72 A89,89 0 0 1 100.31,220.97" fill="none" stroke="#8e8e9a" stroke-width="0.55"/>
<path d="M130.96,224.33 A85.6,85.6 0 0 1 101.62,217.83 L103.77,212.66 A80,80 0 0 0 131.19,218.73 Z" fill="none" stroke="#555" stroke-width="0.65"/>
<path d="M95.1,212.19 A83.3,83.3 0 0 1 77.97,199.98 L80.21,197.56 A80,80 0 0 0 96.66,209.28 Z" fill="#faf5d8"/>
<path d="M94.01,214.22 A85.6,85.6 0 0 1 76.41,201.67 L77.97,199.98 A83.3,83.3 0 0 0 95.1,212.19 Z" fill="#e8141c"/>
<path d="M92.24,213.35L91.01,215.53M90.54,212.36L89.25,214.51M88.86,211.33L87.52,213.45M87.2,210.27L85.82,212.35M83.97,208.02L82.49,210.03M82.39,206.84L80.87,208.82M80.84,205.62L79.27,207.57M79.32,204.37L77.71,206.28M76.36,201.76L74.67,203.6" stroke="#f07a84" stroke-width="0.5"/>
<path d="M94.01,214.22L91.6,218.71M85.63,209.08L82.72,213.26M77.89,203.01L74.52,206.83" stroke="#7a7a86" stroke-width="0.45"/>
<path d="M92.4,217.21 A89,89 0 0 1 74.1,204.17" fill="none" stroke="#8e8e9a" stroke-width="0.55"/>
<path d="M94.01,214.22 A85.6,85.6 0 0 1 76.41,201.67 L80.21,197.56 A80,80 0 0 0 96.66,209.28 Z" fill="none" stroke="#555" stroke-width="0.65"/>
<path d="M71.84,193.69 A83.3,83.3 0 0 1 60.29,176.63 L63.23,175.13 A80,80 0 0 0 74.33,191.52 Z" fill="#faf5d8"/>
<path d="M70.11,195.21 A85.6,85.6 0 0 1 58.24,177.67 L60.29,176.63 A83.3,83.3 0 0 0 71.84,193.69 Z" fill="#e8141c"/>
<path d="M68.76,193.78L66.84,195.38M67.51,192.25L65.56,193.81M66.3,190.7L64.31,192.21M65.12,189.11L63.1,190.58M62.89,185.87L60.8,187.25M61.82,184.21L59.7,185.54M60.8,182.53L58.65,183.81M59.81,180.83L57.63,182.05" stroke="#f07a84" stroke-width="0.5"/>
<path d="M70.11,195.21L66.28,198.57M64.07,187.45L59.87,190.35M58.95,179.05L54.45,181.45" stroke="#7a7a86" stroke-width="0.45"/>
<path d="M67.56,197.45 A89,89 0 0 1 55.21,179.22" fill="none" stroke="#8e8e9a" stroke-width="0.55"/>
<path d="M70.11,195.21 A85.6,85.6 0 0 1 58.24,177.67 L63.23,175.13 A80,80 0 0 0 74.33,191.52 Z" fill="none" stroke="#555" stroke-width="0.65"/>
<path d="M57.7,171.05 A83.3,83.3 0 0 1 51.45,145.28 L54.74,145.02 A80,80 0 0 0 60.74,169.78 Z" fill="#faf5d8"/>
<path d="M55.58,171.94 A85.6,85.6 0 0 1 49.16,145.46 L51.45,145.28 A83.3,83.3 0 0 0 57.7,171.05 Z" fill="#e8141c"/>
<path d="M54.74,170.16L52.42,171.07M54.04,168.32L51.7,169.18M53.39,166.46L51.02,167.27M52.77,164.59L50.39,165.34M51.67,160.8L49.26,161.45M51.19,158.89L48.76,159.48M50.75,156.97L48.31,157.5M50.35,155.04L47.9,155.52M49.7,151.16L47.22,151.52M49.43,149.21L46.95,149.51M49.22,147.25L46.73,147.49" stroke="#f07a84" stroke-width="0.5"/>
<path d="M55.58,171.94L50.87,173.92M52.3,162.67L47.4,164.1M50.1,153.09L45.07,153.94" stroke="#7a7a86" stroke-width="0.45"/>
<path d="M52.44,173.26 A89,89 0 0 1 45.77,145.72" fill="none" stroke="#8e8e9a" stroke-width="0.55"/>
<path d="M55.58,171.94 A85.6,85.6 0 0 1 49.16,145.46 L54.74,145.02 A80,80 0 0 0 60.74,169.78 Z" fill="none" stroke="#555" stroke-width="0.65"/>
<path d="M51.2,137.97 A83.3,83.3 0 0 1 53.95,117.59 L57.14,118.43 A80,80 0 0 0 54.5,138 Z" fill="#faf5d8"/>
<path d="M48.9,137.95 A85.6,85.6 0 0 1 51.72,117.01 L53.95,117.59 A83.3,83.3 0 0 0 51.2,137.97 Z" fill="#e8141c"/>
<path d="M48.85,135.98L46.35,135.9M48.93,134.01L46.44,133.87M49.07,132.04L46.57,131.85M49.24,130.08L46.76,129.83M49.74,126.17L47.26,125.8M50.05,124.23L47.58,123.8M50.41,122.29L47.95,121.81M50.81,120.36L48.37,119.82" stroke="#f07a84" stroke-width="0.5"/>
<path d="M48.9,137.95L43.8,137.9M49.57,128.14L44.51,127.5M51.35,118.47L46.4,117.26" stroke="#7a7a86" stroke-width="0.45"/>
<path d="M45.5,137.91 A89,89 0 0 1 48.43,116.14" fill="none" stroke="#8e8e9a" stroke-width="0.55"/>
<path d="M48.9,137.95 A85.6,85.6 0 0 1 51.72,117.01 L57.14,118.43 A80,80 0 0 0 54.5,138 Z" fill="none" stroke="#555" stroke-width="0.65"/>
<path d="M57.31,107.49 A83.3,83.3 0 0 1 60.34,100.87 L63.28,102.37 A80,80 0 0 0 60.37,108.73 Z" fill="#faf5d8"/>
<path d="M55.18,106.62 A85.6,85.6 0 0 1 58.29,99.82 L60.34,100.87 A83.3,83.3 0 0 0 57.31,107.49 Z" fill="#e8141c"/>
<path d="M55.85,104.77L53.55,103.78M56.65,102.97L54.38,101.92M57.49,101.19L55.25,100.09" stroke="#f07a84" stroke-width="0.5"/>
<path d="M55.18,106.62L50.45,104.71" stroke="#7a7a86" stroke-width="0.45"/>
<path d="M52.03,105.34 A89,89 0 0 1 55.26,98.27" fill="none" stroke="#8e8e9a" stroke-width="0.55"/>
<path d="M55.18,106.62 A85.6,85.6 0 0 1 58.29,99.82 L63.28,102.37 A80,80 0 0 0 60.37,108.73 Z" fill="none" stroke="#555" stroke-width="0.65"/>
<path d="M64.57,93.54 A83.3,83.3 0 0 1 70.61,85.34 L73.14,87.46 A80,80 0 0 0 67.34,95.33 Z" fill="#faf5d8"/>
<path d="M62.64,92.29 A85.6,85.6 0 0 1 68.85,83.87 L70.61,85.34 A83.3,83.3 0 0 0 64.57,93.54 Z" fill="#e8141c"/>
<path d="M63.64,90.6L61.57,89.19M64.77,88.98L62.73,87.53M65.93,87.39L63.93,85.89M67.13,85.83L65.17,84.28" stroke="#f07a84" stroke-width="0.5"/>
<path d="M62.64,92.29L58.36,89.52M68.44,84.36L64.51,81.11" stroke="#7a7a86" stroke-width="0.45"/>
<path d="M59.78,90.44 A89,89 0 0 1 66.24,81.69" fill="none" stroke="#8e8e9a" stroke-width="0.55"/>
<path d="M62.64,92.29 A85.6,85.6 0 0 1 68.85,83.87 L73.14,87.46 A80,80 0 0 0 67.34,95.33 Z" fill="none" stroke="#555" stroke-width="0.65"/>
<path d="M75.32,80.18 A83.3,83.3 0 0 1 94.65,65.65 L96.23,68.55 A80,80 0 0 0 77.67,82.5 Z" fill="#faf5d8"/>
<path d="M73.69,78.56 A85.6,85.6 0 0 1 93.55,63.63 L94.65,65.65 A83.3,83.3 0 0 0 75.32,80.18 Z" fill="#e8141c"/>
<path d="M75.02,77.1L73.28,75.3M76.45,75.75L74.76,73.91M77.92,74.43L76.27,72.56M79.41,73.15L77.8,71.24M82.49,70.69L80.97,68.7M84.07,69.51L82.6,67.49M85.67,68.37L84.25,66.32M87.3,67.27L85.93,65.18M90.64,65.17L89.36,63.03M92.35,64.18L91.12,62.01" stroke="#f07a84" stroke-width="0.5"/>
<path d="M73.69,78.56L70.06,74.97M81,71.98L77.81,68M89.01,66.29L86.3,61.96" stroke="#7a7a86" stroke-width="0.45"/>
<path d="M71.27,76.16 A89,89 0 0 1 91.92,60.64" fill="none" stroke="#8e8e9a" stroke-width="0.55"/>
<path d="M73.69,78.56 A85.6,85.6 0 0 1 93.55,63.63 L96.23,68.55 A80,80 0 0 0 77.67,82.5 Z" fill="none" stroke="#555" stroke-width="0.65"/>
<path d="M100.78,62.63 A83.3,83.3 0 0 1 113.21,58.27 L114.05,61.46 A80,80 0 0 0 102.11,65.65 Z" fill="#faf5d8"/>
<path d="M99.85,60.53 A85.6,85.6 0 0 1 112.62,56.04 L113.21,58.27 A83.3,83.3 0 0 0 100.78,62.63 Z" fill="#e8141c"/>
<path d="M101.62,59.66L100.66,57.35M103.45,58.92L102.54,56.59M105.29,58.23L104.44,55.88M107.15,57.58L106.35,55.21M110.91,56.41L110.22,54.01" stroke="#f07a84" stroke-width="0.5"/>
<path d="M99.85,60.53L97.78,55.86M109.05,57.07L107.54,52.2" stroke="#7a7a86" stroke-width="0.45"/>
<path d="M98.47,57.42 A89,89 0 0 1 111.75,52.76" fill="none" stroke="#8e8e9a" stroke-width="0.55"/>
<path d="M99.85,60.53 A85.6,85.6 0 0 1 112.62,56.04 L114.05,61.46 A80,80 0 0 0 102.11,65.65 Z" fill="none" stroke="#555" stroke-width="0.65"/>
<path d="M161.17,61.05 A82.2,82.2 0 0 1 174.31,66.89" fill="none" stroke="#f3e59c" stroke-width="1.7"/>
<path d="M164.82,64.55L166.03,61.59M170.13,66.95L171.56,64.08" stroke="#6e5566" stroke-width="1.0"/>
<path d="M166.03,61.59L167.46,58.07M171.56,64.08L173.24,60.68" stroke="#ec6b78" stroke-width="1.0"/>
<path d="M124.55,49.85L124.33,47.87L124.03,45.18L123.9,43.99" fill="none" stroke="#666" stroke-width="0.4"/>
<text x="123.83" y="43.39" transform="rotate(83.62 123.83 43.39)" text-anchor="end" dy="0.35em">Pe14-3-3o</text>
<path d="M108.27,53.23L107.69,51.32L106.9,48.74L106.54,47.59" fill="none" stroke="#666" stroke-width="0.4"/>
<text x="106.37" y="47.01" transform="rotate(72.96 106.37 47.01)" text-anchor="end" dy="0.35em">Pe14-3-3like6</text>
<path d="M103.1,54.99L102.4,53.12L101.45,50.59L101.03,49.46" fill="none" stroke="#666" stroke-width="0.4"/>
<text x="100.82" y="48.9" transform="rotate(69.46 100.82 48.9)" text-anchor="end" dy="0.35em">Pe14-3-3d</text>
<path d="M99.13,56.59L98.34,54.75L93.75,53.87L93.23,52.79" fill="none" stroke="#666" stroke-width="0.4"/>
<text x="92.97" y="52.25" transform="rotate(64.37 92.97 52.25)" text-anchor="end" dy="0.35em">Pe14-3-3c</text>
<path d="M84.69,64.44L83.57,62.78L82.07,60.54L81.4,59.54" fill="none" stroke="#666" stroke-width="0.4"/>
<text x="81.07" y="59.04" transform="rotate(56.18 81.07 59.04)" text-anchor="end" dy="0.35em">Pe14-3-3like4</text>
<path d="M74.13,72.73L72.78,71.25L70.96,69.26L70.15,68.37" fill="none" stroke="#666" stroke-width="0.4"/>
<text x="69.74" y="67.93" transform="rotate(47.58 69.74 67.93)" text-anchor="end" dy="0.35em">Pe14-3-3e</text>
<path d="M60.27,88.8L58.61,87.69L56.37,86.18L55.37,85.51" fill="none" stroke="#666" stroke-width="0.4"/>
<text x="54.87" y="85.17" transform="rotate(33.96 54.87 85.17)" text-anchor="end" dy="0.35em">Pe14-3-3like9</text>
<path d="M54.37,98.94L52.58,98.04L50.16,96.84L49.09,96.31" fill="none" stroke="#666" stroke-width="0.4"/>
<text x="48.55" y="96.04" transform="rotate(26.45 48.55 96.04)" text-anchor="end" dy="0.35em">Pe14-3-3n</text>
<path d="M46.55,122.2L44.59,121.83L41.93,121.33L40.76,121.1" fill="none" stroke="#666" stroke-width="0.4"/>
<text x="40.17" y="120.99" transform="rotate(10.69 40.17 120.99)" text-anchor="end" dy="0.35em">Pe14-3-3like17</text>
<path d="M45.5,129.34L43.51,129.12L40.83,128.84L39.63,128.71" fill="none" stroke="#666" stroke-width="0.4"/>
<text x="39.04" y="128.65" transform="rotate(6.07 39.04 128.65)" text-anchor="end" dy="0.35em">Pe14-3-3like3</text>
<path d="M45.09,134.82L43.09,134.73L40.39,134.61L39.19,134.56" fill="none" stroke="#666" stroke-width="0.4"/>
<text x="38.6" y="134.53" transform="rotate(2.55 38.6 134.53)" text-anchor="end" dy="0.35em">Pe14-3-3like7</text>
<path d="M45.69,149.86L43.7,150.11L41.02,150.44L39.83,150.59" fill="none" stroke="#666" stroke-width="0.4"/>
<text x="39.24" y="150.67" transform="rotate(-7.1 39.24 150.67)" text-anchor="end" dy="0.35em">Pe14-3-3k</text>
<path d="M57.74,184.83L56.03,185.86L53.71,187.25L52.68,187.86" fill="none" stroke="#666" stroke-width="0.4"/>
<text x="52.17" y="188.17" transform="rotate(-30.95 52.17 188.17)" text-anchor="end" dy="0.35em">Pe14-3-3b</text>
<path d="M60.1,188.55L58.44,189.66L56.19,191.16L55.2,191.83" fill="none" stroke="#666" stroke-width="0.4"/>
<text x="54.7" y="192.16" transform="rotate(-33.77 54.7 192.16)" text-anchor="end" dy="0.35em">Pe14-3-3like16</text>
<path d="M65.34,195.61L63.79,196.88L61.71,198.59L60.78,199.35" fill="none" stroke="#666" stroke-width="0.4"/>
<text x="60.32" y="199.73" transform="rotate(-39.4 60.32 199.73)" text-anchor="end" dy="0.35em">Pe14-3-3i</text>
<path d="M75.16,205.8L73.83,207.3L72.04,209.32L71.25,210.22" fill="none" stroke="#666" stroke-width="0.4"/>
<text x="70.85" y="210.67" transform="rotate(-48.47 70.85 210.67)" text-anchor="end" dy="0.35em">Pe14-3-3l</text>
<path d="M106.41,223.78L105.78,225.68L104.94,228.24L104.56,229.38" fill="none" stroke="#666" stroke-width="0.4"/>
<text x="104.37" y="229.95" transform="rotate(-71.71 104.37 229.95)" text-anchor="end" dy="0.35em">Pe14-3-3like19</text>
<path d="M109.71,224.8L109.16,226.72L108.41,229.31L108.08,230.47" fill="none" stroke="#666" stroke-width="0.4"/>
<text x="107.91" y="231.04" transform="rotate(-73.92 107.91 231.04)" text-anchor="end" dy="0.35em">Pe14-3-3j</text>
<path d="M112.89,225.65L112.41,227.59L111.76,230.21L111.47,231.38" fill="none" stroke="#666" stroke-width="0.4"/>
<text x="111.32" y="231.96" transform="rotate(-76.03 111.32 231.96)" text-anchor="end" dy="0.35em">Pe14-3-3like1</text>
<path d="M117.04,226.58L116.65,228.54L116.12,231.19L115.89,232.37" fill="none" stroke="#666" stroke-width="0.4"/>
<text x="115.77" y="232.96" transform="rotate(-78.75 115.77 232.96)" text-anchor="end" dy="0.35em">Pe14-3-3h</text>
<path d="M122.76,227.53L122.49,229.51L122.14,232.19L121.98,233.38" fill="none" stroke="#666" stroke-width="0.4"/>
<text x="121.9" y="233.97" transform="rotate(-82.46 121.9 233.97)" text-anchor="end" dy="0.35em">Pe14-3-3like15</text>
<path d="M153.8,51.4L154.23,49.45L154.81,46.82L155.07,45.64" fill="none" stroke="#666" stroke-width="0.4"/>
<text x="155.2" y="45.06" transform="rotate(-77.55 155.2 45.06)" text-anchor="start" dy="0.35em">Pe14-3-3like2</text>
<path d="M157.97,52.43L158.49,50.5L159.2,47.9L159.51,46.74" fill="none" stroke="#666" stroke-width="0.4"/>
<text x="159.67" y="46.16" transform="rotate(-74.8 159.67 46.16)" text-anchor="start" dy="0.35em">Pe14-3-3like5</text>
<path d="M167.45,55.59L168.18,53.73L169.18,51.22L169.62,50.1" fill="none" stroke="#666" stroke-width="0.4"/>
<text x="169.84" y="49.54" transform="rotate(-68.4 169.84 49.54)" text-anchor="start" dy="0.35em">Pe14-3-3like11</text>
<path d="M174.24,58.61L175.13,56.81L176.33,54.39L176.86,53.32" fill="none" stroke="#666" stroke-width="0.4"/>
<text x="177.12" y="52.78" transform="rotate(-63.64 177.12 52.78)" text-anchor="start" dy="0.35em">Pe14-3-3like21</text>
<path d="M183.25,63.74L184.33,62.06L184.86,59.19L185.51,58.18" fill="none" stroke="#666" stroke-width="0.4"/>
<text x="185.83" y="57.67" transform="rotate(-57.68 185.83 57.67)" text-anchor="start" dy="0.35em">OsGF14g</text>
<path d="M198.82,76.56L200.25,75.17L202.19,73.29L203.06,72.46" fill="none" stroke="#666" stroke-width="0.4"/>
<text x="203.49" y="72.04" transform="rotate(-44.06 203.49 72.04)" text-anchor="start" dy="0.35em">OsGF14e</text>
<path d="M209.44,89.87L211.12,88.78L213.38,87.3L214.38,86.65" fill="none" stroke="#666" stroke-width="0.4"/>
<text x="214.88" y="86.32" transform="rotate(-33.14 214.88 86.32)" text-anchor="start" dy="0.35em">OsGF14f</text>
<path d="M216.51,102.97L218.35,102.17L220.82,101.09L221.92,100.61" fill="none" stroke="#666" stroke-width="0.4"/>
<text x="222.47" y="100.37" transform="rotate(-23.6 222.47 100.37)" text-anchor="start" dy="0.35em">OsGF14b</text>
<path d="M219.98,112.27L221.89,111.68L224.47,110.88L225.61,110.53" fill="none" stroke="#666" stroke-width="0.4"/>
<text x="226.19" y="110.35" transform="rotate(-17.24 226.19 110.35)" text-anchor="start" dy="0.35em">OsGF14c</text>
<path d="M221.2,116.6L223.14,116.11L225.76,115.44L226.92,115.14" fill="none" stroke="#666" stroke-width="0.4"/>
<text x="227.5" y="114.99" transform="rotate(-14.36 227.5 114.99)" text-anchor="start" dy="0.35em">OsGF14a</text>
<path d="M223.06,125.9L225.04,125.61L227.72,125.22L228.9,125.04" fill="none" stroke="#666" stroke-width="0.4"/>
<text x="229.5" y="124.96" transform="rotate(-8.29 229.5 124.96)" text-anchor="start" dy="0.35em">OsGF14d</text>
<path d="M223.63,130.69L225.62,130.51L228.34,130.57L229.54,130.47" fill="none" stroke="#666" stroke-width="0.4"/>
<text x="230.13" y="130.42" transform="rotate(-5.01 230.13 130.42)" text-anchor="start" dy="0.35em">OsGF14h</text>
<path d="M223.99,140.1L225.99,140.13L228.7,138.9L229.9,138.9" fill="none" stroke="#666" stroke-width="0.4"/>
<text x="230.5" y="138.9" transform="rotate(0.06 230.5 138.9)" text-anchor="start" dy="0.35em">Pe14-3-3like10</text>
<path d="M221.17,161.13L223.11,161.63L225.7,162.37L226.87,162.67" fill="none" stroke="#666" stroke-width="0.4"/>
<text x="227.45" y="162.82" transform="rotate(14.49 227.45 162.82)" text-anchor="start" dy="0.35em">Pe14-3-3like12</text>
<path d="M215.97,175.86L217.79,176.69L220.25,177.8L221.34,178.3" fill="none" stroke="#666" stroke-width="0.4"/>
<text x="221.88" y="178.55" transform="rotate(24.46 221.88 178.55)" text-anchor="start" dy="0.35em">Pe14-3-3g</text>
<path d="M212.51,182.67L214.26,183.65L216.61,184.97L217.65,185.56" fill="none" stroke="#666" stroke-width="0.4"/>
<text x="218.18" y="185.85" transform="rotate(29.35 218.18 185.85)" text-anchor="start" dy="0.35em">Pe14-3-3f</text>
<path d="M208.41,189.27L210.06,190.4L212.29,191.92L213.28,192.6" fill="none" stroke="#666" stroke-width="0.4"/>
<text x="213.78" y="192.94" transform="rotate(34.33 213.78 192.94)" text-anchor="start" dy="0.35em">Pe14-3-3like14</text>
<path d="M194.5,205.21L195.84,206.69L197.65,208.69L198.46,209.58" fill="none" stroke="#666" stroke-width="0.4"/>
<text x="198.86" y="210.03" transform="rotate(47.9 198.86 210.03)" text-anchor="start" dy="0.35em">Pe14-3-3like18</text>
<path d="M180.7,215.45L181.74,217.16L183.13,219.48L183.75,220.51" fill="none" stroke="#666" stroke-width="0.4"/>
<text x="184.06" y="221.02" transform="rotate(58.92 184.06 221.02)" text-anchor="start" dy="0.35em">Pe14-3-3a</text>
<path d="M177.1,217.51L178.05,219.27L179.13,221.76L179.7,222.81" fill="none" stroke="#666" stroke-width="0.4"/>
<text x="179.98" y="223.34" transform="rotate(61.72 179.98 223.34)" text-anchor="start" dy="0.35em">Pe14-3-3m</text>
<path d="M168.92,221.42L169.69,223.26L174.56,224.06L175.07,225.14" fill="none" stroke="#666" stroke-width="0.4"/>
<text x="175.33" y="225.68" transform="rotate(64.83 175.33 225.68)" text-anchor="start" dy="0.35em">Pe14-3-3like20</text>
<path d="M158.04,225.15L158.57,227.08L159.28,229.68L159.59,230.84" fill="none" stroke="#666" stroke-width="0.4"/>
<text x="159.75" y="231.42" transform="rotate(74.75 159.75 231.42)" text-anchor="start" dy="0.35em">Pe14-3-3like13</text>
<path d="M144.04,227.79L144.25,229.78L144.54,232.46L144.67,233.66" fill="none" stroke="#666" stroke-width="0.4"/>
<text x="144.73" y="234.25" transform="rotate(83.88 144.73 234.25)" text-anchor="start" dy="0.35em">Pe14-3-3like8</text>
<path d="M382.42,66.03 A79.4,79.4 0 0 1 384.55,65.05 Q418.4,136.76 458.19,205.36 A79.4,79.4 0 0 1 456.19,206.54 Q417.68,137.14 382.42,66.03 Z" fill="#cbcbd0" fill-opacity="0.24"/>
<path d="M385.06,64.82 A79.4,79.4 0 0 1 387.22,63.92 Q425.14,121.47 494.02,119.11 A79.4,79.4 0 0 1 494.49,121.22 Q424.84,122 385.06,64.82 Z" fill="#cbcbd0" fill-opacity="0.24"/>
<path d="M387.74,63.71 A79.4,79.4 0 0 1 389.93,62.88 Q398.21,124.98 337.44,140.18 A79.4,79.4 0 0 1 337.4,137.13 Q397.82,124.59 387.74,63.71 Z" fill="#cbcbd0" fill-opacity="0.24"/>
<path d="M390.46,62.7 A79.4,79.4 0 0 1 392.68,61.95 Q399.04,127.51 339.46,155.57 A79.4,79.4 0 0 1 339.02,153.55 Q398.58,127.28 390.46,62.7 Z" fill="#cbcbd0" fill-opacity="0.24"/>
<path d="M393.21,61.79 A79.4,79.4 0 0 1 395.46,61.12 Q422.21,134.68 469.04,197.39 A79.4,79.4 0 0 1 466.83,199.25 Q421.43,135.12 393.21,61.79 Z" fill="#cbcbd0" fill-opacity="0.24"/>
<path d="M396,60.97 A79.4,79.4 0 0 1 398.27,60.39 Q401.51,117.17 347.96,98.04 A79.4,79.4 0 0 1 349.67,95.21 Q401.41,116.77 396,60.97 Z" fill="#cbcbd0" fill-opacity="0.24"/>
<path d="M398.81,60.27 A79.4,79.4 0 0 1 401.1,59.77 Q416.36,137.68 429.97,215.9 A79.4,79.4 0 0 1 426.75,216.37 Q415.39,137.85 398.81,60.27 Z" fill="#cbcbd0" fill-opacity="0.24"/>
<path d="M401.65,59.66 A79.4,79.4 0 0 1 403.96,59.25 Q412.31,137.6 403.96,215.95 A79.4,79.4 0 0 1 401.5,215.51 Q411.47,137.59 401.65,59.66 Z" fill="#cbcbd0" fill-opacity="0.24"/>
<path d="M404.51,59.16 A79.4,79.4 0 0 1 406.83,58.83 Q407.29,135.33 372.4,203.43 A79.4,79.4 0 0 1 370.82,202.33 Q406.6,135.2 404.51,59.16 Z" fill="#cbcbd0" fill-opacity="0.24"/>
<path d="M407.38,58.76 A79.4,79.4 0 0 1 409.71,58.52 Q428.88,119.82 492.93,115.06 A79.4,79.4 0 0 1 493.51,117.09 Q428.57,120.21 407.38,58.76 Z" fill="#cbcbd0" fill-opacity="0.24"/>
<path d="M414.85,58.22 A79.4,79.4 0 0 1 417.2,58.2 Q403.64,127.96 341.22,161.94 A79.4,79.4 0 0 1 340.61,159.94 Q403.12,127.62 414.85,58.22 Z" fill="#cbcbd0" fill-opacity="0.24"/>
<path d="M417.75,58.21 A79.4,79.4 0 0 1 420.11,58.27 Q417.84,137.6 419.43,216.96 A79.4,79.4 0 0 1 417.03,217 Q417.01,137.6 417.75,58.21 Z" fill="#cbcbd0" fill-opacity="0.24"/>
<path d="M420.66,58.29 A79.4,79.4 0 0 1 423.01,58.44 Q428.54,132.67 477.68,188.57 A79.4,79.4 0 0 1 476.19,190.29 Q427.87,132.94 420.66,58.29 Z" fill="#cbcbd0" fill-opacity="0.24"/>
<path d="M423.56,58.49 A79.4,79.4 0 0 1 425.91,58.72 Q404.51,124.31 337.46,140.56 A79.4,79.4 0 0 1 337.4,138.48 Q404.09,123.91 423.56,58.49 Z" fill="#cbcbd0" fill-opacity="0.24"/>
<path d="M426.46,58.79 A79.4,79.4 0 0 1 428.79,59.11 Q424.54,136.56 449.07,210.15 A79.4,79.4 0 0 1 446.89,211.08 Q423.76,136.67 426.46,58.79 Z" fill="#cbcbd0" fill-opacity="0.24"/>
<path d="M429.34,59.2 A79.4,79.4 0 0 1 431.65,59.6 Q411.17,112.75 369.79,73.61 A79.4,79.4 0 0 1 371.8,72.18 Q411.12,112.43 429.34,59.2 Z" fill="#cbcbd0" fill-opacity="0.24"/>
<path d="M432.2,59.71 A79.4,79.4 0 0 1 434.5,60.2 Q406.66,128.28 341.16,161.73 A79.4,79.4 0 0 1 340.21,158.52 Q406.09,127.63 432.2,59.71 Z" fill="#cbcbd0" fill-opacity="0.24"/>
<path d="M435.04,60.32 A79.4,79.4 0 0 1 437.32,60.9 Q410.89,114.03 362.53,79.64 A79.4,79.4 0 0 1 363.68,78.59 Q410.7,113.75 435.04,60.32 Z" fill="#cbcbd0" fill-opacity="0.24"/>
<path d="M445,63.37 A79.4,79.4 0 0 1 447.36,64.31 Q408.26,125.3 337.46,140.59 A79.4,79.4 0 0 1 337.4,138.04 Q407.84,124.69 445,63.37 Z" fill="#cbcbd0" fill-opacity="0.24"/>
<path d="M447.87,64.53 A79.4,79.4 0 0 1 450.19,65.56 Q408.78,125.95 337.59,143.07 A79.4,79.4 0 0 1 337.45,140.36 Q408.35,125.3 447.87,64.53 Z" fill="#cbcbd0" fill-opacity="0.24"/>
<path d="M450.69,65.8 A79.4,79.4 0 0 1 452.97,66.92 Q409.25,125.9 337.49,141.41 A79.4,79.4 0 0 1 337.42,139.49 Q408.84,125.37 450.69,65.8 Z" fill="#cbcbd0" fill-opacity="0.24"/>
<path d="M459.46,70.63 A79.4,79.4 0 0 1 461.37,71.89 Q411.48,121.54 341.8,111.52 A79.4,79.4 0 0 1 342.42,109.81 Q411.25,121.02 459.46,70.63 Z" fill="#cbcbd0" fill-opacity="0.24"/>
<path d="M461.83,72.2 A79.4,79.4 0 0 1 463.69,73.53 Q411.14,127.25 337.55,142.56 A79.4,79.4 0 0 1 337.44,140.08 Q410.79,126.59 461.83,72.2 Z" fill="#cbcbd0" fill-opacity="0.24"/>
<path d="M464.14,73.86 A79.4,79.4 0 0 1 465.96,75.25 Q429.47,139.97 440.04,213.52 A79.4,79.4 0 0 1 437.89,214.15 Q428.78,139.84 464.14,73.86 Z" fill="#cbcbd0" fill-opacity="0.24"/>
<path d="M466.39,75.59 A79.4,79.4 0 0 1 468.16,77.04 Q439.09,122.98 492.79,114.59 A79.4,79.4 0 0 1 493.52,117.13 Q438.9,123.17 466.39,75.59 Z" fill="#cbcbd0" fill-opacity="0.24"/>
<path d="M473.72,82.25 A79.4,79.4 0 0 1 475.25,83.86 Q440.47,124.69 493.64,117.59 A79.4,79.4 0 0 1 494.22,119.97 Q440.31,124.83 473.72,82.25 Z" fill="#cbcbd0" fill-opacity="0.24"/>
<path d="M475.62,84.27 A79.4,79.4 0 0 1 477.09,85.93 Q413.58,126.68 338.13,126.89 A79.4,79.4 0 0 1 338.36,125.27 Q413.37,126.11 475.62,84.27 Z" fill="#cbcbd0" fill-opacity="0.24"/>
<path d="M481.92,92.17 A79.4,79.4 0 0 1 483.52,94.55 Q434.98,142.34 453.99,207.75 A79.4,79.4 0 0 1 452.63,208.45 Q434.47,142.05 481.92,92.17 Z" fill="#cbcbd0" fill-opacity="0.24"/>
<path d="M483.81,95.02 A79.4,79.4 0 0 1 485.31,97.46 Q417.13,138.14 350.2,180.82 A79.4,79.4 0 0 1 348.46,178.02 Q416.57,137.22 483.81,95.02 Z" fill="#cbcbd0" fill-opacity="0.24"/>
<path d="M485.59,97.94 A79.4,79.4 0 0 1 486.97,100.45 Q418.03,139.52 353.63,185.71 A79.4,79.4 0 0 1 352.48,184.15 Q417.58,138.81 485.59,97.94 Z" fill="#cbcbd0" fill-opacity="0.24"/>
<path d="M451.16,209.18 A79.4,79.4 0 0 1 449.08,210.14 Q415.85,162.52 379.08,207.47 A79.4,79.4 0 0 1 376.24,205.86 Q415.72,162.07 451.16,209.18 Z" fill="#cdcdd2" fill-opacity="0.16"/>
<path d="M374.83,205 A79.4,79.4 0 0 1 373.32,204.04 Q419.69,158.33 476.76,189.65 A79.4,79.4 0 0 1 474.54,192.1 Q419.56,158.93 374.83,205 Z" fill="#cdcdd2" fill-opacity="0.16"/>
<path d="M493.3,116.34 A79.4,79.4 0 0 1 493.76,118.07 Q421,123.82 363.87,78.42 A79.4,79.4 0 0 1 366,76.58 Q421.3,123.2 493.3,116.34 Z" fill="#cdcdd2" fill-opacity="0.16"/>
<path d="M388.59,211.82 A79.4,79.4 0 0 1 386.11,210.83 Q415.49,163.7 440.01,213.53 A79.4,79.4 0 0 1 437.22,214.33 Q415.44,164.02 388.59,211.82 Z" fill="#cdcdd2" fill-opacity="0.16"/>
<path d="M337.78,145.39 A79.4,79.4 0 0 1 337.62,143.49 Q389.39,135.57 339.35,120.13 A79.4,79.4 0 0 1 339.93,117.71 Q389.52,135.48 337.78,145.39 Z" fill="#cdcdd2" fill-opacity="0.16"/>
<path d="M353,184.87 A79.4,79.4 0 0 1 351.69,183.04 Q393.47,138.44 348.59,96.96 A79.4,79.4 0 0 1 349.48,95.5 Q393.85,138.5 353,184.87 Z" fill="#cdcdd2" fill-opacity="0.16"/>
<path d="M350.55,93.83 A79.4,79.4 0 0 1 352.09,91.59 Q391.61,130.44 337.56,142.67 A79.4,79.4 0 0 1 337.42,139.52 Q391.32,130.28 350.55,93.83 Z" fill="#cdcdd2" fill-opacity="0.16"/>
<path d="M453.89,207.81 A79.4,79.4 0 0 1 450.95,209.28 Q426.69,163.48 439.18,213.78 A79.4,79.4 0 0 1 437.15,214.35 Q426.85,163.32 453.89,207.81 Z" fill="#cdcdd2" fill-opacity="0.16"/>
<path d="M338.39,125.08 A79.4,79.4 0 0 1 338.97,121.9 Q397.83,147.68 386.24,210.88 A79.4,79.4 0 0 1 383.49,209.68 Q397.25,148.02 338.39,125.08 Z" fill="#cdcdd2" fill-opacity="0.16"/>
<path d="M476.73,189.69 A79.4,79.4 0 0 1 474.55,192.09 Q433.73,159.24 455.81,206.75 A79.4,79.4 0 0 1 454.44,207.51 Q433.87,158.95 476.73,189.69 Z" fill="#cdcdd2" fill-opacity="0.16"/>
<path d="M350.96,181.97 A79.4,79.4 0 0 1 349.59,179.87 Q396.72,133.87 369.28,73.99 A79.4,79.4 0 0 1 370.74,72.93 Q397.22,134.05 350.96,181.97 Z" fill="#cdcdd2" fill-opacity="0.16"/>
<path d="M494.29,120.3 A79.4,79.4 0 0 1 494.67,122.07 Q439.3,145.57 467.53,198.68 A79.4,79.4 0 0 1 464.96,200.73 Q438.79,145.62 494.29,120.3 Z" fill="#cdcdd2" fill-opacity="0.16"/>
<path d="M474.41,192.24 A79.4,79.4 0 0 1 472.52,194.17 Q412.67,148.15 337.49,141.34 A79.4,79.4 0 0 1 337.4,137.88 Q412.99,147.21 474.41,192.24 Z" fill="#cdcdd2" fill-opacity="0.16"/>
<path d="M477.64,188.62 A79.4,79.4 0 0 1 476.6,189.84 Q413.99,150.86 340.96,161.11 A79.4,79.4 0 0 1 340.25,158.68 Q414.05,150.22 477.64,188.62 Z" fill="#cdcdd2" fill-opacity="0.16"/>
<path d="M496.09,138.8C463.27,151.7 412.2,106.22 405.29,59.14" fill="none" stroke="#f4dc30" stroke-width="1" stroke-opacity="0.85"/>
<path d="M493.52,157.66C460.01,148.7 424.2,106.75 435.29,60.49" fill="none" stroke="#f4dc30" stroke-width="1" stroke-opacity="0.85"/>
<path d="M486.33,175.73C460.28,148.48 396.09,113.57 365.03,77.53" fill="none" stroke="#f4dc30" stroke-width="1" stroke-opacity="0.85"/>
<path d="M495.76,144.94C461.96,147.89 390.05,120.55 349.92,94.99" fill="none" stroke="#f4dc30" stroke-width="1" stroke-opacity="0.85"/>
<path d="M491.33,164.69C464.89,148.71 385.55,132.14 338.68,123.96" fill="none" stroke="#f4dc30" stroke-width="1" stroke-opacity="0.85"/>
<path d="M483.02,181.23C459.19,151.24 385.08,137.59 337.5,137.57" fill="none" stroke="#f4dc30" stroke-width="1" stroke-opacity="0.85"/>
<path d="M494.94,151.14C463.25,149.42 386.32,146.39 340.6,159.57" fill="none" stroke="#f4dc30" stroke-width="1" stroke-opacity="0.85"/>
<path d="M489.19,169.98C463.75,146.11 390.98,156.02 352.25,183.66" fill="none" stroke="#f4dc30" stroke-width="1" stroke-opacity="0.85"/>
<path d="M496.1,137.62C461.73,146.15 391.94,157.31 354.66,186.87" fill="none" stroke="#f4dc30" stroke-width="1" stroke-opacity="0.85"/>
<path d="M493.28,158.55C460.42,146.85 401.29,165.27 378.02,206.77" fill="none" stroke="#f4dc30" stroke-width="1" stroke-opacity="0.85"/>
<path d="M486.51,175.4C462.78,148.68 403.8,166.53 384.3,209.93" fill="none" stroke="#f4dc30" stroke-width="1" stroke-opacity="0.85"/>
<path d="M495.76,144.95C462.93,150.84 410.11,168.61 400.08,215.12" fill="none" stroke="#f4dc30" stroke-width="1" stroke-opacity="0.85"/>
<path d="M491.26,164.88C463.11,147.2 412.65,169.05 406.42,216.22" fill="none" stroke="#f4dc30" stroke-width="1" stroke-opacity="0.85"/>
<path d="M482.65,181.78C460.07,146.06 414.64,169.25 411.4,216.72" fill="none" stroke="#f4dc30" stroke-width="1" stroke-opacity="0.85"/>
<path d="M494.81,151.84C463.29,147.07 422.31,168.84 430.57,215.7" fill="none" stroke="#f4dc30" stroke-width="1" stroke-opacity="0.85"/>
<path d="M489.21,169.93C461.07,150.18 429.71,166.57 449.07,210.04" fill="none" stroke="#f4dc30" stroke-width="1" stroke-opacity="0.85"/>
<path d="M496.1,138.26C462.69,150.54 444.97,123.02 487.22,101.15" fill="none" stroke="#f4dc30" stroke-width="1" stroke-opacity="0.85"/>
<path d="M493.47,157.85C463.75,151.44 447.32,128.95 493.1,115.98" fill="none" stroke="#f4dc30" stroke-width="1" stroke-opacity="0.85"/>
<path d="M486.48,175.46C464.6,150.33 385.43,142.28 338.37,149.29" fill="none" stroke="#f4dc30" stroke-width="1" stroke-opacity="0.85"/>
<path d="M492.16,105.53 A81.9,81.9 0 0 1 498.03,127.12" fill="none" stroke="#f3e59c" stroke-width="1.7"/>
<path d="M380.6,62.91 A83,83 0 0 1 409.68,54.91 L409.96,58.19 A79.7,79.7 0 0 0 382.04,65.88 Z" fill="#faf5d8"/>
<path d="M379.59,60.84 A85.3,85.3 0 0 1 409.48,52.61 L409.68,54.91 A83,83 0 0 0 380.6,62.91 Z" fill="#e8141c"/>
<path d="M381.33,59.91L380.3,57.64M383.13,59.12L382.15,56.82M384.95,58.36L384.02,56.04M386.79,57.65L385.91,55.31M390.51,56.35L389.74,53.97M392.39,55.76L391.68,53.37M394.28,55.22L393.63,52.81M396.19,54.72L395.59,52.3M400.04,53.86L399.54,51.41M401.97,53.5L401.54,51.04M403.91,53.18L403.54,50.71M405.87,52.9L405.55,50.42" stroke="#f07a84" stroke-width="0.5"/>
<path d="M379.59,60.84L377.24,55.98M388.68,57.07L386.89,51.97M398.13,54.37L396.95,49.1M407.83,52.77L407.27,47.4" stroke="#7a7a86" stroke-width="0.45"/>
<path d="M377.98,57.51 A89,89 0 0 1 409.17,48.93" fill="none" stroke="#8e8e9a" stroke-width="0.55"/>
<path d="M379.59,60.84 A85.3,85.3 0 0 1 409.48,52.61 L409.96,58.19 A79.7,79.7 0 0 0 382.04,65.88 Z" fill="none" stroke="#555" stroke-width="0.65"/>
<path d="M414.47,54.63 A83,83 0 0 1 438.53,57.5 L437.67,60.68 A79.7,79.7 0 0 0 414.56,57.93 Z" fill="#faf5d8"/>
<path d="M414.4,52.33 A85.3,85.3 0 0 1 439.14,55.28 L438.53,57.5 A83,83 0 0 0 414.47,54.63 Z" fill="#e8141c"/>
<path d="M416.37,52.2L416.36,49.7M418.34,52.21L418.39,49.71M420.31,52.27L420.41,49.77M422.28,52.38L422.44,49.88M426.2,52.72L426.48,50.23M428.16,52.96L428.49,50.48M430.11,53.24L430.5,50.77M432.05,53.57L432.49,51.11M435.91,54.36L436.47,51.93M437.82,54.83L438.44,52.4" stroke="#f07a84" stroke-width="0.5"/>
<path d="M414.4,52.33L414.25,46.94M424.23,52.62L424.7,47.24M433.96,54.04L435.05,48.75" stroke="#7a7a86" stroke-width="0.45"/>
<path d="M414.3,48.64 A89,89 0 0 1 440.1,51.71" fill="none" stroke="#8e8e9a" stroke-width="0.55"/>
<path d="M414.4,52.33 A85.3,85.3 0 0 1 439.14,55.28 L437.67,60.68 A79.7,79.7 0 0 0 414.56,57.93 Z" fill="none" stroke="#555" stroke-width="0.65"/>
<path d="M446,59.91 A83,83 0 0 1 454.87,63.84 L453.35,66.78 A79.7,79.7 0 0 0 444.84,63 Z" fill="#faf5d8"/>
<path d="M446.81,57.75 A85.3,85.3 0 0 1 455.92,61.8 L454.87,63.84 A83,83 0 0 0 446,59.91 Z" fill="#e8141c"/>
<path d="M448.68,58.37L449.62,56.06M450.5,59.13L451.49,56.83M452.3,59.93L453.34,57.66M454.09,60.77L455.18,58.52" stroke="#f07a84" stroke-width="0.5"/>
<path d="M446.81,57.75L448.71,52.7M455.8,61.74L458.27,56.94" stroke="#7a7a86" stroke-width="0.45"/>
<path d="M448.11,54.29 A89,89 0 0 1 457.62,58.51" fill="none" stroke="#8e8e9a" stroke-width="0.55"/>
<path d="M446.81,57.75 A85.3,85.3 0 0 1 455.92,61.8 L453.35,66.78 A79.7,79.7 0 0 0 444.84,63 Z" fill="none" stroke="#555" stroke-width="0.65"/>
<path d="M461.15,67.44 A83,83 0 0 1 470.7,74.49 L468.56,77 A79.7,79.7 0 0 0 459.39,70.23 Z" fill="#faf5d8"/>
<path d="M462.38,65.5 A85.3,85.3 0 0 1 472.2,72.74 L470.7,74.49 A83,83 0 0 0 461.15,67.44 Z" fill="#e8141c"/>
<path d="M464.09,66.49L465.47,64.4M465.71,67.6L467.15,65.55M467.32,68.74L468.79,66.73M468.89,69.93L470.42,67.95M471.96,72.4L473.57,70.49" stroke="#f07a84" stroke-width="0.5"/>
<path d="M462.38,65.5L465.27,60.93M470.38,71.22L473.77,67.02" stroke="#7a7a86" stroke-width="0.45"/>
<path d="M464.36,62.37 A89,89 0 0 1 474.6,69.92" fill="none" stroke="#8e8e9a" stroke-width="0.55"/>
<path d="M462.38,65.5 A85.3,85.3 0 0 1 472.2,72.74 L468.56,77 A79.7,79.7 0 0 0 459.39,70.23 Z" fill="none" stroke="#555" stroke-width="0.65"/>
<path d="M476.1,79.53 A83,83 0 0 1 480.01,83.81 L477.49,85.94 A79.7,79.7 0 0 0 473.74,81.84 Z" fill="#faf5d8"/>
<path d="M477.74,77.92 A85.3,85.3 0 0 1 481.76,82.32 L480.01,83.81 A83,83 0 0 0 476.1,79.53 Z" fill="#e8141c"/>
<path d="M479.18,79.27L481,77.56M480.51,80.73L482.37,79.06M481.8,82.21L483.7,80.59" stroke="#f07a84" stroke-width="0.5"/>
<path d="M477.74,77.92L481.6,74.14" stroke="#7a7a86" stroke-width="0.45"/>
<path d="M480.39,75.33 A89,89 0 0 1 484.58,79.92" fill="none" stroke="#8e8e9a" stroke-width="0.55"/>
<path d="M477.74,77.92 A85.3,85.3 0 0 1 481.76,82.32 L477.49,85.94 A79.7,79.7 0 0 0 473.74,81.84 Z" fill="none" stroke="#555" stroke-width="0.65"/>
<path d="M484.71,89.87 A83,83 0 0 1 490.29,99.02 L487.37,100.55 A79.7,79.7 0 0 0 482.01,91.77 Z" fill="#faf5d8"/>
<path d="M486.59,88.55 A85.3,85.3 0 0 1 492.32,97.95 L490.29,99.02 A83,83 0 0 0 484.71,89.87 Z" fill="#e8141c"/>
<path d="M487.78,90.12L489.86,88.73M488.86,91.77L490.97,90.43M489.9,93.44L492.04,92.15M490.9,95.14L493.07,93.9" stroke="#f07a84" stroke-width="0.5"/>
<path d="M486.59,88.55L491.01,85.45M491.77,96.91L496.52,94.33" stroke="#7a7a86" stroke-width="0.45"/>
<path d="M489.62,86.42 A89,89 0 0 1 495.6,96.23" fill="none" stroke="#8e8e9a" stroke-width="0.55"/>
<path d="M486.59,88.55 A85.3,85.3 0 0 1 492.32,97.95 L487.37,100.55 A79.7,79.7 0 0 0 482.01,91.77 Z" fill="none" stroke="#555" stroke-width="0.65"/>
<path d="M496.08,113.04 A83,83 0 0 1 498.77,124.59 L495.51,125.1 A79.7,79.7 0 0 0 492.93,114.02 Z" fill="#faf5d8"/>
<path d="M498.28,112.36 A85.3,85.3 0 0 1 501.05,124.23 L498.77,124.59 A83,83 0 0 0 496.08,113.04 Z" fill="#e8141c"/>
<path d="M498.94,114.22L501.34,113.54M499.45,116.12L501.87,115.49M499.93,118.03L502.36,117.46M500.36,119.96L502.8,119.44M501.08,123.83L503.55,123.43" stroke="#f07a84" stroke-width="0.5"/>
<path d="M498.28,112.36L503.44,110.76M500.64,121.91L505.95,120.91" stroke="#7a7a86" stroke-width="0.45"/>
<path d="M501.82,111.27 A89,89 0 0 1 504.7,123.65" fill="none" stroke="#8e8e9a" stroke-width="0.55"/>
<path d="M498.28,112.36 A85.3,85.3 0 0 1 501.05,124.23 L495.51,125.1 A79.7,79.7 0 0 0 492.93,114.02 Z" fill="none" stroke="#555" stroke-width="0.65"/>
<path d="M481.01,190.19 A83,83 0 0 1 466.51,204.07 L464.53,201.43 A79.7,79.7 0 0 0 478.46,188.1 Z" fill="#faf5d8"/>
<path d="M482.79,191.65 A85.3,85.3 0 0 1 467.88,205.91 L466.51,204.07 A83,83 0 0 0 481.01,190.19 Z" fill="#e8141c"/>
<path d="M481.6,193.22L483.5,194.85M480.3,194.7L482.16,196.37M478.97,196.15L480.79,197.87M477.6,197.57L479.38,199.33M474.77,200.31L476.47,202.15M473.31,201.63L474.96,203.51M471.82,202.92L473.43,204.83M470.29,204.17L471.86,206.12" stroke="#f07a84" stroke-width="0.5"/>
<path d="M482.79,191.65L486.97,195.07M476.13,198.89L479.89,202.77M468.68,205.31L471.97,209.59" stroke="#7a7a86" stroke-width="0.45"/>
<path d="M485.65,193.99 A89,89 0 0 1 470.1,208.87" fill="none" stroke="#8e8e9a" stroke-width="0.55"/>
<path d="M482.79,191.65 A85.3,85.3 0 0 1 467.88,205.91 L464.53,201.43 A79.7,79.7 0 0 0 478.46,188.1 Z" fill="none" stroke="#555" stroke-width="0.65"/>
<path d="M462.55,206.85 A83,83 0 0 1 447.99,214.52 L446.75,211.46 A79.7,79.7 0 0 0 460.73,204.1 Z" fill="#faf5d8"/>
<path d="M463.82,208.77 A85.3,85.3 0 0 1 448.85,216.65 L447.99,214.52 A83,83 0 0 0 462.55,206.85 Z" fill="#e8141c"/>
<path d="M462.22,209.92L463.55,212.04M460.54,210.95L461.82,213.1M458.83,211.94L460.06,214.12M457.11,212.89L458.29,215.09M453.59,214.67L454.67,216.92M451.8,215.5L452.83,217.78M450,216.28L450.97,218.59" stroke="#f07a84" stroke-width="0.5"/>
<path d="M463.82,208.77L466.79,213.28M455.31,213.71L457.75,218.53" stroke="#7a7a86" stroke-width="0.45"/>
<path d="M465.86,211.86 A89,89 0 0 1 450.24,220.08" fill="none" stroke="#8e8e9a" stroke-width="0.55"/>
<path d="M463.82,208.77 A85.3,85.3 0 0 1 448.85,216.65 L446.75,211.46 A79.7,79.7 0 0 0 460.73,204.1 Z" fill="none" stroke="#555" stroke-width="0.65"/>
<path d="M442.86,216.4 A83,83 0 0 1 426.67,220.01 L426.28,216.73 A79.7,79.7 0 0 0 441.83,213.27 Z" fill="#faf5d8"/>
<path d="M443.58,218.59 A85.3,85.3 0 0 1 426.94,222.29 L426.67,220.01 A83,83 0 0 0 442.86,216.4 Z" fill="#e8141c"/>
<path d="M441.74,219.28L442.47,221.67M439.85,219.83L440.52,222.24M437.94,220.34L438.56,222.76M436.03,220.81L436.59,223.24M432.17,221.61L432.62,224.06M430.23,221.94L430.62,224.41M428.28,222.22L428.62,224.7" stroke="#f07a84" stroke-width="0.5"/>
<path d="M443.58,218.59L445.28,223.71M434.09,221.13L435.18,226.42" stroke="#7a7a86" stroke-width="0.45"/>
<path d="M444.75,222.1 A89,89 0 0 1 427.38,225.97" fill="none" stroke="#8e8e9a" stroke-width="0.55"/>
<path d="M443.58,218.59 A85.3,85.3 0 0 1 426.94,222.29 L426.28,216.73 A79.7,79.7 0 0 0 441.83,213.27 Z" fill="none" stroke="#555" stroke-width="0.65"/>
<path d="M420.45,220.52 A83,83 0 0 1 396.17,218 L396.99,214.8 A79.7,79.7 0 0 0 420.3,217.22 Z" fill="#faf5d8"/>
<path d="M420.55,222.82 A85.3,85.3 0 0 1 395.6,220.22 L396.17,218 A83,83 0 0 0 420.45,220.52 Z" fill="#e8141c"/>
<path d="M418.59,222.98L418.64,225.48M416.62,223L416.61,225.5M414.65,222.97L414.58,225.47M412.68,222.9L412.56,225.4M408.75,222.62L408.51,225.11M406.79,222.41L406.5,224.89M404.84,222.16L404.49,224.63M402.89,221.86L402.48,224.33M399.02,221.13L398.5,223.57M397.1,220.7L396.52,223.13" stroke="#f07a84" stroke-width="0.5"/>
<path d="M420.55,222.82L420.79,228.21M410.72,222.68L410.33,228.07M400.97,221.42L399.96,226.72" stroke="#7a7a86" stroke-width="0.45"/>
<path d="M420.71,226.51 A89,89 0 0 1 394.68,223.81" fill="none" stroke="#8e8e9a" stroke-width="0.55"/>
<path d="M420.55,222.82 A85.3,85.3 0 0 1 395.6,220.22 L396.99,214.8 A79.7,79.7 0 0 0 420.3,217.22 Z" fill="none" stroke="#555" stroke-width="0.65"/>
<path d="M390.57,216.35 A83,83 0 0 1 361.67,199.65 L363.86,197.18 A79.7,79.7 0 0 0 391.62,213.22 Z" fill="#faf5d8"/>
<path d="M389.85,218.53 A85.3,85.3 0 0 1 360.14,201.37 L361.67,199.65 A83,83 0 0 0 390.57,216.35 Z" fill="#e8141c"/>
<path d="M387.95,217.98L387.11,220.33M386.11,217.29L385.21,219.63M384.28,216.56L383.33,218.88M382.46,215.79L381.46,218.08M378.89,214.13L377.78,216.37M377.14,213.23L375.98,215.45M375.41,212.3L374.19,214.48M373.69,211.32L372.43,213.48M370.34,209.26L368.98,211.35M368.7,208.17L367.29,210.23M367.08,207.04L365.63,209.07M365.5,205.87L363.99,207.87M362.4,203.43L360.81,205.36M360.9,202.16L359.26,204.05" stroke="#f07a84" stroke-width="0.5"/>
<path d="M389.85,218.53L388.14,223.65M380.71,214.89L378.43,219.78M372.06,210.22L369.22,214.82M364,204.59L360.65,208.83" stroke="#7a7a86" stroke-width="0.45"/>
<path d="M388.68,222.04 A89,89 0 0 1 357.69,204.13" fill="none" stroke="#8e8e9a" stroke-width="0.55"/>
<path d="M389.85,218.53 A85.3,85.3 0 0 1 360.14,201.37 L363.86,197.18 A79.7,79.7 0 0 0 391.62,213.22 Z" fill="none" stroke="#555" stroke-width="0.65"/>
<path d="M357.97,196.15 A83,83 0 0 1 343.17,175.91 L346.1,174.39 A79.7,79.7 0 0 0 360.31,193.82 Z" fill="#faf5d8"/>
<path d="M356.34,197.77 A85.3,85.3 0 0 1 341.13,176.97 L343.17,175.91 A83,83 0 0 0 357.97,196.15 Z" fill="#e8141c"/>
<path d="M354.89,196.43L353.08,198.15M353.55,194.98L351.7,196.66M352.25,193.51L350.36,195.15M350.97,192.01L349.05,193.6M348.53,188.91L346.54,190.41M347.37,187.32L345.34,188.78M346.24,185.71L344.17,187.12M345.15,184.07L343.05,185.43M343.08,180.71L340.92,181.98M342.11,179L339.92,180.21M341.17,177.27L338.96,178.43" stroke="#f07a84" stroke-width="0.5"/>
<path d="M356.34,197.77L352.51,201.58M349.81,190.41L345.57,193.75M344.18,182.35L339.58,185.18" stroke="#7a7a86" stroke-width="0.45"/>
<path d="M353.71,200.38 A89,89 0 0 1 337.85,178.68" fill="none" stroke="#8e8e9a" stroke-width="0.55"/>
<path d="M356.34,197.77 A85.3,85.3 0 0 1 341.13,176.97 L346.1,174.39 A79.7,79.7 0 0 0 360.31,193.82 Z" fill="none" stroke="#555" stroke-width="0.65"/>
<path d="M339.64,168.18 A83,83 0 0 1 335.39,153.78 L338.63,153.14 A79.7,79.7 0 0 0 342.71,166.97 Z" fill="#faf5d8"/>
<path d="M337.5,169.03 A85.3,85.3 0 0 1 333.14,154.23 L335.39,153.78 A83,83 0 0 0 339.64,168.18 Z" fill="#e8141c"/>
<path d="M336.7,167.23L334.36,168.09M336.04,165.37L333.68,166.18M335.42,163.5L333.04,164.26M334.85,161.62L332.45,162.32M333.83,157.81L331.4,158.4M333.38,155.89L330.94,156.43" stroke="#f07a84" stroke-width="0.5"/>
<path d="M337.5,169.03L332.48,171.02M334.41,159.69L329.2,161.09" stroke="#7a7a86" stroke-width="0.45"/>
<path d="M334.06,170.39 A89,89 0 0 1 329.51,154.95" fill="none" stroke="#8e8e9a" stroke-width="0.55"/>
<path d="M337.5,169.03 A85.3,85.3 0 0 1 333.14,154.23 L338.63,153.14 A79.7,79.7 0 0 0 342.71,166.97 Z" fill="none" stroke="#555" stroke-width="0.65"/>
<path d="M334.42,147.76 A83,83 0 0 1 333.81,136.4 L337.11,136.45 A79.7,79.7 0 0 0 337.7,147.35 Z" fill="#faf5d8"/>
<path d="M332.14,148.04 A85.3,85.3 0 0 1 331.51,136.36 L333.81,136.4 A83,83 0 0 0 334.42,147.76 Z" fill="#e8141c"/>
<path d="M331.82,146.09L329.34,146.34M331.65,144.13L329.16,144.32M331.52,142.17L329.03,142.3M331.44,140.2L328.94,140.27" stroke="#f07a84" stroke-width="0.5"/>
<path d="M332.14,148.04L326.78,148.7M331.5,138.23L326.1,138.27" stroke="#7a7a86" stroke-width="0.45"/>
<path d="M328.47,148.49 A89,89 0 0 1 327.81,136.31" fill="none" stroke="#8e8e9a" stroke-width="0.55"/>
<path d="M332.14,148.04 A85.3,85.3 0 0 1 331.51,136.36 L337.11,136.45 A79.7,79.7 0 0 0 337.7,147.35 Z" fill="none" stroke="#555" stroke-width="0.65"/>
<path d="M334.27,128.74 A83,83 0 0 1 340.36,105.25 L343.4,106.54 A79.7,79.7 0 0 0 337.56,129.09 Z" fill="#faf5d8"/>
<path d="M331.99,128.49 A85.3,85.3 0 0 1 338.25,104.35 L340.36,105.25 A83,83 0 0 0 334.27,128.74 Z" fill="#e8141c"/>
<path d="M332.12,126.52L329.64,126.2M332.4,124.57L329.93,124.19M332.72,122.63L330.26,122.19M333.09,120.7L330.64,120.2M333.96,116.85L331.53,116.25M334.46,114.95L332.05,114.28M335,113.05L332.61,112.34M335.59,111.17L333.21,110.4M336.9,107.46L334.56,106.57M337.61,105.62L335.3,104.69" stroke="#f07a84" stroke-width="0.5"/>
<path d="M331.99,128.49L326.62,127.91M333.6,118.79L328.33,117.6M336.32,109.34L331.22,107.55" stroke="#7a7a86" stroke-width="0.45"/>
<path d="M328.31,128.1 A89,89 0 0 1 334.84,102.91" fill="none" stroke="#8e8e9a" stroke-width="0.55"/>
<path d="M331.99,128.49 A85.3,85.3 0 0 1 338.25,104.35 L343.4,106.54 A79.7,79.7 0 0 0 337.56,129.09 Z" fill="none" stroke="#555" stroke-width="0.65"/>
<path d="M343.98,97.78 A83,83 0 0 1 352.92,84.6 L355.46,86.71 A79.7,79.7 0 0 0 346.87,99.36 Z" fill="#faf5d8"/>
<path d="M341.96,96.68 A85.3,85.3 0 0 1 351.15,83.14 L352.92,84.6 A83,83 0 0 0 343.98,97.78 Z" fill="#e8141c"/>
<path d="M342.84,94.91L340.67,93.66M343.84,93.22L341.7,91.92M344.88,91.54L342.78,90.2M345.96,89.9L343.89,88.5M348.24,86.68L346.23,85.19M349.43,85.11L347.46,83.58M350.66,83.57L348.72,81.99" stroke="#f07a84" stroke-width="0.5"/>
<path d="M341.96,96.68L337.22,94.09M347.16,88.33L342.76,85.22" stroke="#7a7a86" stroke-width="0.45"/>
<path d="M338.71,94.9 A89,89 0 0 1 348.3,80.77" fill="none" stroke="#8e8e9a" stroke-width="0.55"/>
<path d="M341.96,96.68 A85.3,85.3 0 0 1 351.15,83.14 L355.46,86.71 A79.7,79.7 0 0 0 346.87,99.36 Z" fill="none" stroke="#555" stroke-width="0.65"/>
<path d="M356.26,80.82 A83,83 0 0 1 376.04,65.3 L377.66,68.17 A79.7,79.7 0 0 0 358.66,83.08 Z" fill="#faf5d8"/>
<path d="M354.58,79.25 A85.3,85.3 0 0 1 374.91,63.29 L376.04,65.3 A83,83 0 0 0 356.26,80.82 Z" fill="#e8141c"/>
<path d="M355.87,77.76L354.09,76.01M357.27,76.37L355.52,74.58M358.69,75.02L356.99,73.18M360.15,73.69L358.49,71.82M363.16,71.15L361.59,69.2M364.71,69.93L363.18,67.95M366.28,68.74L364.8,66.73M367.88,67.6L366.45,65.55M371.16,65.42L369.83,63.3M372.84,64.38L371.56,62.24M374.54,63.39L373.31,61.22" stroke="#f07a84" stroke-width="0.5"/>
<path d="M354.58,79.25L350.64,75.56M361.71,72.48L358.22,68.36M369.57,66.57L366.58,62.07" stroke="#7a7a86" stroke-width="0.45"/>
<path d="M351.88,76.72 A89,89 0 0 1 373.1,60.07" fill="none" stroke="#8e8e9a" stroke-width="0.55"/>
<path d="M354.58,79.25 A85.3,85.3 0 0 1 374.91,63.29 L377.66,68.17 A79.7,79.7 0 0 0 358.66,83.08 Z" fill="none" stroke="#555" stroke-width="0.65"/>
<path d="M492.16,105.53 A81.9,81.9 0 0 1 493.3,108.36" fill="none" stroke="#f3e59c" stroke-width="1.7"/>
<path d="M490.89,107.69L493.86,106.5" stroke="#6e5566" stroke-width="1.0"/>
<path d="M493.86,106.5L497.38,105.07" stroke="#ec6b78" stroke-width="1.0"/>
<path d="M497.83,125.71 A81.9,81.9 0 0 1 484.06,184.33" fill="none" stroke="#f3e59c" stroke-width="1.7"/>
<path d="M496.46,131.41L499.65,131.17M496.7,138.23L499.9,138.25M496.38,144.79L499.56,145.07M495.39,152L498.54,152.57M494.01,158.17L497.1,159M492.08,164.36L495.1,165.44M489.6,170.52L492.52,171.84M486.68,176.35L489.47,177.9M483.13,182.15L485.78,183.94" stroke="#6e5566" stroke-width="1.0"/>
<path d="M499.65,131.17L503.44,130.87M499.9,138.25L503.7,138.28M499.56,145.07L503.35,145.42M498.54,152.57L502.28,153.26M497.1,159L500.77,159.97M495.1,165.44L498.68,166.71M492.52,171.84L495.98,173.4M489.47,177.9L492.8,179.74M485.78,183.94L488.94,186.06" stroke="#ec6b78" stroke-width="1.0"/>
<path d="M404.05,49.01L403.77,47.03L403.38,44.36L403.21,43.17" fill="none" stroke="#666" stroke-width="0.4"/>
<text x="403.12" y="42.58" transform="rotate(81.81 403.12 42.58)" text-anchor="end" dy="0.35em">Pe14-3-3k</text>
<path d="M437.77,50.59L438.24,48.65L438.87,46.02L439.15,44.86" fill="none" stroke="#666" stroke-width="0.4"/>
<text x="439.29" y="44.27" transform="rotate(-76.45 439.29 44.27)" text-anchor="start" dy="0.35em">Pe14-3-3like1</text>
<path d="M451.6,55.14L452.38,53.3L453.43,50.81L453.89,49.71" fill="none" stroke="#666" stroke-width="0.4"/>
<text x="454.13" y="49.15" transform="rotate(-67.12 454.13 49.15)" text-anchor="start" dy="0.35em">Pe14-3-3like8</text>
<path d="M467.15,63.6L468.27,61.95L469.79,59.72L470.46,58.72" fill="none" stroke="#666" stroke-width="0.4"/>
<text x="470.8" y="58.23" transform="rotate(-55.77 470.8 58.23)" text-anchor="start" dy="0.35em">Pe14-3-3like9</text>
<path d="M481.4,75.65L482.84,74.27L483.98,71.56L484.83,70.72" fill="none" stroke="#666" stroke-width="0.4"/>
<text x="485.26" y="70.3" transform="rotate(-44.51 485.26 70.3)" text-anchor="start" dy="0.35em">Pe14-3-3like10</text>
<path d="M495.6,95.17L497.36,94.22L501.01,95.38L502.08,94.84" fill="none" stroke="#666" stroke-width="0.4"/>
<text x="502.62" y="94.57" transform="rotate(-26.63 502.62 94.57)" text-anchor="start" dy="0.35em">Pe14-3-3like18</text>
<path d="M500.06,104.77L501.92,104.04L504.64,103.58L505.76,103.15" fill="none" stroke="#666" stroke-width="0.4"/>
<text x="506.32" y="102.93" transform="rotate(-21.17 506.32 102.93)" text-anchor="start" dy="0.35em">Pe14-3-3like11</text>
<path d="M504.85,121.55L506.82,121.19L509.47,120.71L510.65,120.49" fill="none" stroke="#666" stroke-width="0.4"/>
<text x="511.24" y="120.39" transform="rotate(-10.33 511.24 120.39)" text-anchor="start" dy="0.35em">Pe14-3-3like12</text>
<path d="M506.04,130.81L508.04,130.66L510.73,130.46L511.93,130.36" fill="none" stroke="#666" stroke-width="0.4"/>
<text x="512.52" y="130.32" transform="rotate(-4.35 512.52 130.32)" text-anchor="start" dy="0.35em">Pe14-3-3like21</text>
<path d="M506.3,138.16L508.3,138.17L511,138.19L512.2,138.2" fill="none" stroke="#666" stroke-width="0.4"/>
<text x="512.8" y="138.2" transform="rotate(0.36 512.8 138.2)" text-anchor="start" dy="0.35em">Ol14-3-3a</text>
<path d="M505.91,145.99L507.9,146.18L510.59,146.43L511.78,146.54" fill="none" stroke="#666" stroke-width="0.4"/>
<text x="512.38" y="146.6" transform="rotate(5.38 512.38 146.6)" text-anchor="start" dy="0.35em">Ol14-3-3b</text>
<path d="M504.96,153L506.93,153.35L509.59,153.81L510.78,154.02" fill="none" stroke="#666" stroke-width="0.4"/>
<text x="511.37" y="154.12" transform="rotate(9.91 511.37 154.12)" text-anchor="start" dy="0.35em">Ol14-3-3c</text>
<path d="M503.27,160.69L505.2,161.2L507.81,161.9L508.97,162.21" fill="none" stroke="#666" stroke-width="0.4"/>
<text x="509.55" y="162.37" transform="rotate(14.95 509.55 162.37)" text-anchor="start" dy="0.35em">Ol14-3-3d</text>
<path d="M501.16,167.49L503.05,168.16L505.59,169.06L506.72,169.46" fill="none" stroke="#666" stroke-width="0.4"/>
<text x="507.29" y="169.66" transform="rotate(19.51 507.29 169.66)" text-anchor="start" dy="0.35em">Ol14-3-3e</text>
<path d="M498.32,174.54L500.14,175.37L502.6,176.48L503.69,176.98" fill="none" stroke="#666" stroke-width="0.4"/>
<text x="504.24" y="177.23" transform="rotate(24.38 504.24 177.23)" text-anchor="start" dy="0.35em">Ol14-3-3f</text>
<path d="M494.81,181.47L496.56,182.45L498.91,183.77L499.95,184.36" fill="none" stroke="#666" stroke-width="0.4"/>
<text x="500.48" y="184.65" transform="rotate(29.35 500.48 184.65)" text-anchor="start" dy="0.35em">Ol14-3-3g</text>
<path d="M490.83,187.89L492.49,189.02L494.67,190.6L495.67,191.28" fill="none" stroke="#666" stroke-width="0.4"/>
<text x="496.16" y="191.62" transform="rotate(34.24 496.16 191.62)" text-anchor="start" dy="0.35em">Ol14-3-3h</text>
<path d="M480.34,200.63L481.76,202.04L483.68,203.94L484.53,204.79" fill="none" stroke="#666" stroke-width="0.4"/>
<text x="484.95" y="205.21" transform="rotate(44.77 484.95 205.21)" text-anchor="start" dy="0.35em">Pe14-3-3o</text>
<path d="M451.91,219.92L452.7,221.76L453.76,224.25L454.23,225.35" fill="none" stroke="#666" stroke-width="0.4"/>
<text x="454.46" y="225.9" transform="rotate(66.9 454.46 225.9)" text-anchor="start" dy="0.35em">Pe14-3-3like13</text>
<path d="M435.7,225.08L436.12,227.04L436.69,229.68L436.94,230.85" fill="none" stroke="#666" stroke-width="0.4"/>
<text x="437.07" y="231.44" transform="rotate(77.81 437.07 231.44)" text-anchor="start" dy="0.35em">Pe14-3-3a</text>
<path d="M432.26,225.75L432.61,227.72L433.08,230.38L433.28,231.57" fill="none" stroke="#666" stroke-width="0.4"/>
<text x="433.39" y="232.16" transform="rotate(80.05 433.39 232.16)" text-anchor="start" dy="0.35em">Pe14-3-3m</text>
<path d="M428.37,226.35L428.63,228.33L428.75,231.04L428.91,232.23" fill="none" stroke="#666" stroke-width="0.4"/>
<text x="428.98" y="232.82" transform="rotate(82.71 428.98 232.82)" text-anchor="start" dy="0.35em">Pe14-3-3like20</text>
<path d="M412.33,226.99L412.23,228.99L412.1,231.68L412.04,232.88" fill="none" stroke="#666" stroke-width="0.4"/>
<text x="412.01" y="233.48" transform="rotate(-87.14 412.01 233.48)" text-anchor="end" dy="0.35em">Pe14-3-3g</text>
<path d="M402.6,225.97L402.28,227.94L401.85,230.61L401.66,231.79" fill="none" stroke="#666" stroke-width="0.4"/>
<text x="401.57" y="232.38" transform="rotate(-80.87 401.57 232.38)" text-anchor="end" dy="0.35em">Pe14-3-3f</text>
<path d="M395.47,224.52L394.99,226.46L394.07,229.02L393.79,230.18" fill="none" stroke="#666" stroke-width="0.4"/>
<text x="393.64" y="230.76" transform="rotate(-76.04 393.64 230.76)" text-anchor="end" dy="0.35em">Pe14-3-3like14</text>
<path d="M364.95,210.55L363.8,212.18L362.23,214.39L361.54,215.36" fill="none" stroke="#666" stroke-width="0.4"/>
<text x="361.19" y="215.85" transform="rotate(-54.6 361.19 215.85)" text-anchor="end" dy="0.35em">Pe14-3-3like19</text>
<path d="M368.15,212.72L367.06,214.4L365.59,216.67L364.94,217.67" fill="none" stroke="#666" stroke-width="0.4"/>
<text x="364.61" y="218.18" transform="rotate(-57.07 364.61 218.18)" text-anchor="end" dy="0.35em">Pe14-3-3j</text>
<path d="M371.44,214.76L370.43,216.48L369.06,218.81L368.45,219.84" fill="none" stroke="#666" stroke-width="0.4"/>
<text x="368.15" y="220.36" transform="rotate(-59.55 368.15 220.36)" text-anchor="end" dy="0.35em">Pe14-3-3like1</text>
<path d="M374.81,216.64L373.87,218.4L372.6,220.79L372.04,221.85" fill="none" stroke="#666" stroke-width="0.4"/>
<text x="371.76" y="222.38" transform="rotate(-62.02 371.76 222.38)" text-anchor="end" dy="0.35em">Pe14-3-3h</text>
<path d="M378.27,218.38L377.41,220.19L376.25,222.62L375.73,223.71" fill="none" stroke="#666" stroke-width="0.4"/>
<text x="375.47" y="224.25" transform="rotate(-64.5 375.47 224.25)" text-anchor="end" dy="0.35em">Pe14-3-3like15</text>
<path d="M340.16,183.83L338.45,184.86L336.14,186.26L335.11,186.88" fill="none" stroke="#666" stroke-width="0.4"/>
<text x="334.6" y="187.19" transform="rotate(-31.1 334.6 187.19)" text-anchor="end" dy="0.35em">Pe14-3-3b</text>
<path d="M342.86,188.02L341.2,189.15L338.97,190.67L337.98,191.35" fill="none" stroke="#666" stroke-width="0.4"/>
<text x="337.49" y="191.68" transform="rotate(-34.29 337.49 191.68)" text-anchor="end" dy="0.35em">Pe14-3-3like16</text>
<path d="M347.68,194.46L346.14,195.73L344.05,197.44L343.12,198.2" fill="none" stroke="#666" stroke-width="0.4"/>
<text x="342.66" y="198.59" transform="rotate(-39.44 342.66 198.59)" text-anchor="end" dy="0.35em">Pe14-3-3i</text>
<path d="M329.75,158.4L327.81,158.87L325.18,159.49L324.01,159.77" fill="none" stroke="#666" stroke-width="0.4"/>
<text x="323.43" y="159.91" transform="rotate(-13.44 323.43 159.91)" text-anchor="end" dy="0.35em">Pe14-3-3like5</text>
<path d="M331.66,165.18L329.75,165.8L327.19,166.63L326.04,167" fill="none" stroke="#666" stroke-width="0.4"/>
<text x="325.47" y="167.19" transform="rotate(-17.95 325.47 167.19)" text-anchor="end" dy="0.35em">Pe14-3-3like2</text>
<path d="M327.3,137.4L325.3,137.39L322.6,137.39L321.4,137.38" fill="none" stroke="#666" stroke-width="0.4"/>
<text x="320.8" y="137.38" transform="rotate(0.13 320.8 137.38)" text-anchor="end" dy="0.35em">Pe14-3-3n</text>
<path d="M328.32,124.11L326.35,123.81L323.68,123.4L322.49,123.22" fill="none" stroke="#666" stroke-width="0.4"/>
<text x="321.9" y="123.13" transform="rotate(8.67 321.9 123.13)" text-anchor="end" dy="0.35em">Pe14-3-3c</text>
<path d="M331.57,110.28L329.67,109.67L327.09,108.85L325.95,108.48" fill="none" stroke="#666" stroke-width="0.4"/>
<text x="325.38" y="108.3" transform="rotate(17.77 325.38 108.3)" text-anchor="end" dy="0.35em">Pe14-3-3like4</text>
<path d="M338.73,93.84L336.98,92.86L333.58,93.46L332.52,92.9" fill="none" stroke="#666" stroke-width="0.4"/>
<text x="331.99" y="92.62" transform="rotate(27.94 331.99 92.62)" text-anchor="end" dy="0.35em">Pe14-3-3h</text>
<path d="M341.19,89.71L339.5,88.64L337.22,87.19L336.21,86.55" fill="none" stroke="#666" stroke-width="0.4"/>
<text x="335.7" y="86.23" transform="rotate(32.35 335.7 86.23)" text-anchor="end" dy="0.35em">Pe14-3-3d</text>
<path d="M344.45,84.92L342.83,83.74L340.65,82.15L339.68,81.44" fill="none" stroke="#666" stroke-width="0.4"/>
<text x="339.19" y="81.09" transform="rotate(36.06 339.19 81.09)" text-anchor="end" dy="0.35em">Pe14-3-3like6</text>
<path d="M354.4,73.44L353.01,72L351.13,70.07L350.29,69.21" fill="none" stroke="#666" stroke-width="0.4"/>
<text x="349.87" y="68.78" transform="rotate(45.8 349.87 68.78)" text-anchor="end" dy="0.35em">Pe14-3-3like7</text>
<path d="M358.56,69.65L357.25,68.13L355.5,66.08L354.72,65.17" fill="none" stroke="#666" stroke-width="0.4"/>
<text x="354.33" y="64.71" transform="rotate(49.4 354.33 64.71)" text-anchor="end" dy="0.35em">Pe14-3-3like3</text>
<path d="M365.08,64.56L363.93,62.92L362.37,60.72L361.67,59.74" fill="none" stroke="#666" stroke-width="0.4"/>
<text x="361.33" y="59.25" transform="rotate(54.7 361.33 59.25)" text-anchor="end" dy="0.35em">Pe14-3-3like17</text>
<path d="M60.78,426.15 A79.9,79.9 0 0 1 60,415.09 C99.95,415.05 179.79,417.15 219.68,419.31 A79.9,79.9 0 0 1 218.78,427.72 C179.34,421.36 100.34,420.58 60.78,426.15 Z" fill="#c8c8c8" fill-opacity="0.24"/>
<path d="M64.84,442.37 A79.9,79.9 0 0 1 62.38,434.36 C101.14,424.68 179.75,417.86 219.6,420.71 A79.9,79.9 0 0 1 218.54,429.11 C179.22,422.06 102.37,428.69 64.84,442.37 Z" fill="#c8c8c8" fill-opacity="0.2"/>
<path d="M60,415.09 A79.9,79.9 0 0 1 60.19,409.57 C100.04,412.28 173.83,393.91 207.76,372.81 A79.9,79.9 0 0 1 214.01,385.13 C176.95,400.06 99.95,415.05 60,415.09 Z" fill="#c8c8c8" fill-opacity="0.22"/>
<path d="M77.12,464.43 A79.9,79.9 0 0 1 72.24,457.5 C106.07,436.25 179.69,418.56 219.48,422.12 A79.9,79.9 0 0 1 218.28,430.5 C179.09,422.75 108.51,439.71 77.12,464.43 Z" fill="#c8c8c8" fill-opacity="0.2"/>
<path d="M120.73,492.57 A79.9,79.9 0 0 1 112.48,490.05 C126.19,452.52 178.98,406.71 218.06,398.41 A79.9,79.9 0 0 1 219.37,406.69 C179.63,410.85 130.32,453.78 120.73,492.57 Z" fill="#c8c8c8" fill-opacity="0.2"/>
<path d="M153.65,493.71 A79.9,79.9 0 0 1 145.05,494.73 C142.48,454.87 155.42,378.19 170.93,341.37 A79.9,79.9 0 0 1 178.26,344.91 C159.08,379.96 146.78,454.35 153.65,493.71 Z" fill="#c8c8c8" fill-opacity="0.2"/>
<path d="M93.86,349.82Q121.72,401.19 64.76,388.13" fill="none" stroke="#d0d0d8" stroke-width="0.6" stroke-opacity="0.6"/>
<path d="M107.93,341.88Q123.25,405.7 60.88,426.14" fill="none" stroke="#d0d0d8" stroke-width="0.6" stroke-opacity="0.6"/>
<path d="M121.97,337.24Q132.9,414.5 111.18,489.45" fill="none" stroke="#d0d0d8" stroke-width="0.6" stroke-opacity="0.6"/>
<path d="M135.28,335.33Q138.25,414.98 133.52,494.54" fill="none" stroke="#d0d0d8" stroke-width="0.6" stroke-opacity="0.6"/>
<path d="M136.63,335.27Q140.61,414.95 147.92,494.4" fill="none" stroke="#d0d0d8" stroke-width="0.6" stroke-opacity="0.6"/>
<path d="M159.36,337.61Q132.6,397.15 71.81,373.39" fill="none" stroke="#d0d0d8" stroke-width="0.6" stroke-opacity="0.6"/>
<path d="M94.97,349.05Q121.78,408.81 64.02,439.7" fill="none" stroke="#d0d0d8" stroke-width="0.6" stroke-opacity="0.6"/>
<path d="M106.7,342.43Q126.21,412.32 81.82,469.73" fill="none" stroke="#d0d0d8" stroke-width="0.6" stroke-opacity="0.6"/>
<path d="M120.66,337.55Q140.13,414.94 160.67,492.05" fill="none" stroke="#d0d0d8" stroke-width="0.6" stroke-opacity="0.6"/>
<path d="M139.32,335.2Q145.91,413.33 180.54,483.68" fill="none" stroke="#d0d0d8" stroke-width="0.6" stroke-opacity="0.6"/>
<path d="M71.81,373.39Q135.78,419.06 180.54,483.68" fill="none" stroke="#d0d0d8" stroke-width="0.6" stroke-opacity="0.6"/>
<path d="M63.48,392.03Q137.77,419.05 202.13,464.96" fill="none" stroke="#d0d0d8" stroke-width="0.6" stroke-opacity="0.6"/>
<path d="M79.83,362.47Q124.66,417.34 98.35,483.13" fill="none" stroke="#d0d0d8" stroke-width="0.6" stroke-opacity="0.6"/>
<path d="M155.4,336.72Q130.34,401.83 60.67,405.46" fill="none" stroke="#d0d0d8" stroke-width="0.6" stroke-opacity="0.6"/>
<path d="M97.22,347.57Q122.53,400.09 66.77,383.05" fill="none" stroke="#d0d0d8" stroke-width="0.6" stroke-opacity="0.6"/>
<path d="M112.93,339.89Q123.9,404.37 60.21,419.24" fill="none" stroke="#d0d0d8" stroke-width="0.6" stroke-opacity="0.6"/>
<path d="M169.94,341.07C169.17,400.48 104.1,417.75 60.34,421.12" fill="none" stroke="#28a463" stroke-width="1" stroke-opacity="0.9"/>
<path d="M195.26,357.53C174.72,406.92 105.79,426.22 64.09,439.92" fill="none" stroke="#28a463" stroke-width="1" stroke-opacity="0.9"/>
<path d="M215.7,390.05C168.76,399.5 106.38,427.87 65.4,443.6" fill="none" stroke="#28a463" stroke-width="1" stroke-opacity="0.9"/>
<path d="M176.4,344.04C171.7,405.12 112.68,438.42 79.4,467.04" fill="none" stroke="#28a463" stroke-width="1" stroke-opacity="0.9"/>
<path d="M200.24,362.78C171.74,403.12 110.85,436.11 75.34,461.91" fill="none" stroke="#28a463" stroke-width="1" stroke-opacity="0.9"/>
<path d="M216.98,394.33C172.81,399.11 119.46,444.52 94.47,480.61" fill="none" stroke="#28a463" stroke-width="1" stroke-opacity="0.9"/>
<path d="M181.03,346.61C174.75,400.45 124.5,447.44 105.67,487.09" fill="none" stroke="#28a463" stroke-width="1" stroke-opacity="0.9"/>
<path d="M204.89,368.69C173.91,402.24 133.66,450.36 126.04,493.59" fill="none" stroke="#28a463" stroke-width="1" stroke-opacity="0.9"/>
<path d="M218.29,400.06C169.32,403.1 136.58,450.76 132.53,494.46" fill="none" stroke="#28a463" stroke-width="1" stroke-opacity="0.9"/>
<path d="M184.78,349.02C175.15,405.41 146.81,450.24 155.26,493.31" fill="none" stroke="#28a463" stroke-width="1" stroke-opacity="0.9"/>
<path d="M209.37,375.74C174.89,404.04 149.8,449.52 161.9,491.71" fill="none" stroke="#28a463" stroke-width="1" stroke-opacity="0.9"/>
<path d="M219.34,407.42C172.8,403.03 151.83,448.87 166.41,490.27" fill="none" stroke="#28a463" stroke-width="1" stroke-opacity="0.9"/>
<path d="M190.84,353.58C174.44,401.07 160.65,444.31 186.01,480.13" fill="none" stroke="#28a463" stroke-width="1" stroke-opacity="0.9"/>
<path d="M212.89,382.74C173.96,405.22 163.22,442.31 191.73,475.68" fill="none" stroke="#28a463" stroke-width="1" stroke-opacity="0.9"/>
<path d="M170.44,341.28C171.25,406.17 168.27,437.01 202.95,463.91" fill="none" stroke="#28a463" stroke-width="1" stroke-opacity="0.9"/>
<path d="M196.33,358.58C173.56,405.14 104.54,421.24 61.31,428.86" fill="none" stroke="#28a463" stroke-width="1" stroke-opacity="0.9"/>
<path d="M215.59,389.71C171.25,404.78 127.62,448.74 112.61,489.99" fill="none" stroke="#28a463" stroke-width="1" stroke-opacity="0.9"/>
<path d="M174.65,343.16C170.73,402.75 104.16,418.44 60.47,422.65" fill="none" stroke="#28a463" stroke-width="1" stroke-opacity="0.9"/>
<path d="M199.77,362.25C170.85,404.11 106.05,426.99 64.68,441.64" fill="none" stroke="#28a463" stroke-width="1" stroke-opacity="0.9"/>
<path d="M217.09,394.75C169.86,406.56 111.6,437.11 77.02,464.13" fill="none" stroke="#28a463" stroke-width="1" stroke-opacity="0.9"/>
<path d="M180.96,346.57C170.7,404.28 134.9,450.56 128.79,494.02" fill="none" stroke="#28a463" stroke-width="1" stroke-opacity="0.9"/>
<path d="M205.04,368.9C172.26,402.12 148.59,449.84 159.21,492.43" fill="none" stroke="#28a463" stroke-width="1" stroke-opacity="0.9"/>
<path d="M218.61,401.83C173.14,404.61 151,449.15 164.56,490.89" fill="none" stroke="#28a463" stroke-width="1" stroke-opacity="0.9"/>
<path d="M186.15,349.97C175.84,399.18 162.01,443.3 189.03,477.88" fill="none" stroke="#28a463" stroke-width="1" stroke-opacity="0.9"/>
<path d="M209.28,375.56C173.91,401.05 121.95,446.1 100,484.11" fill="none" stroke="#28a463" stroke-width="1" stroke-opacity="0.9"/>
<path d="M219.34,407.41C168.4,400.56 106.84,429.03 66.44,446.18" fill="none" stroke="#28a463" stroke-width="1" stroke-opacity="0.9"/>
<path d="M146.02,332.83 A82.4,82.4 0 0 1 167.97,337.53" fill="none" stroke="#f3e59c" stroke-width="1.7"/>
<path d="M57.58,401.03 A83.5,83.5 0 0 1 65.14,377.81 L68.1,379.28 A80.2,80.2 0 0 0 60.83,401.58 Z" fill="#faf5d8"/>
<path d="M55.31,400.65 A85.8,85.8 0 0 1 63.08,376.78 L65.14,377.81 A83.5,83.5 0 0 0 57.58,401.03 Z" fill="#e8141c"/>
<path d="M55.56,398.69L53.11,398.22M55.96,396.76L53.52,396.23M56.4,394.84L53.97,394.25M56.88,392.93L54.47,392.29M57.98,389.15L55.6,388.4M58.6,387.28L56.23,386.47M59.25,385.42L56.91,384.56M59.95,383.58L57.63,382.66M61.48,379.94L59.2,378.92M62.3,378.16L60.04,377.08" stroke="#f07a84" stroke-width="0.5"/>
<path d="M55.31,400.65L50.48,399.83M57.51,391.06L52.8,389.69M60.79,381.79L56.27,379.89" stroke="#7a7a86" stroke-width="0.45"/>
<path d="M52.15,400.11 A89,89 0 0 1 60.22,375.36" fill="none" stroke="#8e8e9a" stroke-width="0.55"/>
<path d="M55.31,400.65 A85.8,85.8 0 0 1 63.08,376.78 L68.1,379.28 A80.2,80.2 0 0 0 60.83,401.58 Z" fill="none" stroke="#555" stroke-width="0.65"/>
<path d="M68.44,371.81 A83.5,83.5 0 0 1 82.79,354.08 L85.05,356.49 A80.2,80.2 0 0 0 71.26,373.51 Z" fill="#faf5d8"/>
<path d="M66.47,370.62 A85.8,85.8 0 0 1 81.22,352.4 L82.79,354.08 A83.5,83.5 0 0 0 68.44,371.81 Z" fill="#e8141c"/>
<path d="M67.42,368.89L65.31,367.55M68.5,367.24L66.42,365.85M69.61,365.62L67.57,364.18M70.77,364.02L68.75,362.53M73.18,360.9L71.23,359.33M74.43,359.38L72.53,357.77M75.73,357.9L73.86,356.24M77.05,356.44L75.22,354.74M79.8,353.62L78.06,351.83" stroke="#f07a84" stroke-width="0.5"/>
<path d="M66.47,370.62L62.28,368.08M72.03,362.51L68.16,359.51M78.48,355.09L74.98,351.66" stroke="#7a7a86" stroke-width="0.45"/>
<path d="M63.73,368.96 A89,89 0 0 1 79.03,350.07" fill="none" stroke="#8e8e9a" stroke-width="0.55"/>
<path d="M66.47,370.62 A85.8,85.8 0 0 1 81.22,352.4 L85.05,356.49 A80.2,80.2 0 0 0 71.26,373.51 Z" fill="none" stroke="#555" stroke-width="0.65"/>
<path d="M89.16,348.68 A83.5,83.5 0 0 1 96.04,343.95 L97.77,346.76 A80.2,80.2 0 0 0 91.17,351.3 Z" fill="#faf5d8"/>
<path d="M87.76,346.86 A85.8,85.8 0 0 1 94.83,341.99 L96.04,343.95 A83.5,83.5 0 0 0 89.16,348.68 Z" fill="#e8141c"/>
<path d="M89.28,345.6L87.81,343.58M90.89,344.46L89.46,342.4M92.52,343.35L91.14,341.27M94.17,342.28L92.84,340.17" stroke="#f07a84" stroke-width="0.5"/>
<path d="M87.76,346.86L84.79,342.97" stroke="#7a7a86" stroke-width="0.45"/>
<path d="M85.82,344.32 A89,89 0 0 1 93.15,339.27" fill="none" stroke="#8e8e9a" stroke-width="0.55"/>
<path d="M87.76,346.86 A85.8,85.8 0 0 1 94.83,341.99 L97.77,346.76 A80.2,80.2 0 0 0 91.17,351.3 Z" fill="none" stroke="#555" stroke-width="0.65"/>
<path d="M102.07,340.56 A83.5,83.5 0 0 1 110.6,336.81 L111.76,339.9 A80.2,80.2 0 0 0 103.56,343.5 Z" fill="#faf5d8"/>
<path d="M101.03,338.51 A85.8,85.8 0 0 1 109.8,334.65 L110.6,336.81 A83.5,83.5 0 0 0 102.07,340.56 Z" fill="#e8141c"/>
<path d="M102.75,337.55L101.67,335.3M104.53,336.72L103.51,334.44M106.34,335.93L105.36,333.63M108.16,335.18L107.24,332.86" stroke="#f07a84" stroke-width="0.5"/>
<path d="M101.03,338.51L98.81,334.14" stroke="#7a7a86" stroke-width="0.45"/>
<path d="M99.58,335.66 A89,89 0 0 1 108.67,331.66" fill="none" stroke="#8e8e9a" stroke-width="0.55"/>
<path d="M101.03,338.51 A85.8,85.8 0 0 1 109.8,334.65 L111.76,339.9 A80.2,80.2 0 0 0 103.56,343.5 Z" fill="none" stroke="#555" stroke-width="0.65"/>
<path d="M117.85,334.46 A83.5,83.5 0 0 1 123.75,333.08 L124.39,336.31 A80.2,80.2 0 0 0 118.72,337.65 Z" fill="#faf5d8"/>
<path d="M117.25,332.24 A85.8,85.8 0 0 1 123.31,330.82 L123.75,333.08 A83.5,83.5 0 0 0 117.85,334.46 Z" fill="#e8141c"/>
<path d="M119.12,331.65L118.52,329.22M121.04,331.2L120.49,328.76M122.97,330.79L122.48,328.33" stroke="#f07a84" stroke-width="0.5"/>
<path d="M117.25,332.24L115.95,327.52" stroke="#7a7a86" stroke-width="0.45"/>
<path d="M116.4,329.16 A89,89 0 0 1 122.69,327.68" fill="none" stroke="#8e8e9a" stroke-width="0.55"/>
<path d="M117.25,332.24 A85.8,85.8 0 0 1 123.31,330.82 L124.39,336.31 A80.2,80.2 0 0 0 118.72,337.65 Z" fill="none" stroke="#555" stroke-width="0.65"/>
<path d="M130.03,332.09 A83.5,83.5 0 0 1 142.29,331.53 L142.2,334.83 A80.2,80.2 0 0 0 130.42,335.36 Z" fill="#faf5d8"/>
<path d="M129.76,329.8 A85.8,85.8 0 0 1 142.36,329.24 L142.29,331.53 A83.5,83.5 0 0 0 130.03,332.09 Z" fill="#e8141c"/>
<path d="M131.7,329.49L131.46,327M133.67,329.33L133.48,326.83M135.63,329.21L135.51,326.71M137.6,329.13L137.53,326.63M141.54,329.12L141.59,326.62" stroke="#f07a84" stroke-width="0.5"/>
<path d="M129.76,329.8L129.18,324.94M139.57,329.2L139.55,324.3" stroke="#7a7a86" stroke-width="0.45"/>
<path d="M129.38,326.62 A89,89 0 0 1 142.45,326.04" fill="none" stroke="#8e8e9a" stroke-width="0.55"/>
<path d="M129.76,329.8 A85.8,85.8 0 0 1 142.36,329.24 L142.2,334.83 A80.2,80.2 0 0 0 130.42,335.36 Z" fill="none" stroke="#555" stroke-width="0.65"/>
<path d="M152.99,332.53 A83.5,83.5 0 0 1 166.17,335.74 L165.14,338.87 A80.2,80.2 0 0 0 152.47,335.79 Z" fill="#faf5d8"/>
<path d="M153.35,330.26 A85.8,85.8 0 0 1 166.9,333.56 L166.17,335.74 A83.5,83.5 0 0 0 152.99,332.53 Z" fill="#e8141c"/>
<path d="M155.31,330.49L155.76,328.03M157.24,330.87L157.75,328.42M159.17,331.29L159.73,328.85M161.08,331.75L161.7,329.33M164.88,332.81L165.61,330.42M166.76,333.41L167.54,331.03" stroke="#f07a84" stroke-width="0.5"/>
<path d="M153.35,330.26L154.12,325.42M162.96,332.36L164.28,327.64" stroke="#7a7a86" stroke-width="0.45"/>
<path d="M153.85,327.1 A89,89 0 0 1 167.9,330.52" fill="none" stroke="#8e8e9a" stroke-width="0.55"/>
<path d="M153.35,330.26 A85.8,85.8 0 0 1 166.9,333.56 L165.14,338.87 A80.2,80.2 0 0 0 152.47,335.79 Z" fill="none" stroke="#555" stroke-width="0.65"/>
<path d="M223.4,415.26 A83.5,83.5 0 0 1 221.45,432.94 L218.23,432.24 A80.2,80.2 0 0 0 220.1,415.25 Z" fill="#faf5d8"/>
<path d="M225.7,415.27 A85.8,85.8 0 0 1 223.7,433.44 L221.45,432.94 A83.5,83.5 0 0 0 223.4,415.26 Z" fill="#e8141c"/>
<path d="M225.77,417.24L228.27,417.3M225.7,419.21L228.19,419.33M225.58,421.18L228.07,421.35M225.41,423.14L227.9,423.38M224.95,427.05L227.43,427.4M224.65,429L227.12,429.41M224.31,430.94L226.76,431.4M223.92,432.87L226.37,433.39" stroke="#f07a84" stroke-width="0.5"/>
<path d="M225.7,415.27L230.6,415.28M225.11,425.09L229.97,425.66" stroke="#7a7a86" stroke-width="0.45"/>
<path d="M228.9,415.28 A89,89 0 0 1 226.82,434.13" fill="none" stroke="#8e8e9a" stroke-width="0.55"/>
<path d="M225.7,415.27 A85.8,85.8 0 0 1 223.7,433.44 L218.23,432.24 A80.2,80.2 0 0 0 220.1,415.25 Z" fill="none" stroke="#555" stroke-width="0.65"/>
<path d="M219.59,439.94 A83.5,83.5 0 0 1 214.19,453.13 L211.25,451.62 A80.2,80.2 0 0 0 216.44,438.96 Z" fill="#faf5d8"/>
<path d="M221.78,440.63 A85.8,85.8 0 0 1 216.23,454.18 L214.19,453.13 A83.5,83.5 0 0 0 219.59,439.94 Z" fill="#e8141c"/>
<path d="M221.27,442.53L223.64,443.33M220.62,444.39L222.96,445.25M219.92,446.23L222.25,447.14M219.18,448.06L221.49,449.02M217.58,451.66L219.84,452.73M216.72,453.43L218.96,454.55" stroke="#f07a84" stroke-width="0.5"/>
<path d="M221.78,440.63L226.46,442.09M218.31,449.83L222.79,451.82" stroke="#7a7a86" stroke-width="0.45"/>
<path d="M224.84,441.58 A89,89 0 0 1 219.08,455.64" fill="none" stroke="#8e8e9a" stroke-width="0.55"/>
<path d="M221.78,440.63 A85.8,85.8 0 0 1 216.23,454.18 L211.25,451.62 A80.2,80.2 0 0 0 216.44,438.96 Z" fill="none" stroke="#555" stroke-width="0.65"/>
<path d="M210.66,459.33 A83.5,83.5 0 0 1 203.32,469.32 L200.81,467.17 A80.2,80.2 0 0 0 207.86,457.58 Z" fill="#faf5d8"/>
<path d="M212.61,460.56 A85.8,85.8 0 0 1 205.06,470.81 L203.32,469.32 A83.5,83.5 0 0 0 210.66,459.33 Z" fill="#e8141c"/>
<path d="M211.63,462.27L213.71,463.64M210.52,463.9L212.58,465.32M209.38,465.51L211.41,466.98M208.21,467.09L210.2,468.6M205.75,470.16L207.66,471.77" stroke="#f07a84" stroke-width="0.5"/>
<path d="M212.61,460.56L216.76,463.16M206.92,468.58L210.74,471.64" stroke="#7a7a86" stroke-width="0.45"/>
<path d="M215.32,462.25 A89,89 0 0 1 207.5,472.9" fill="none" stroke="#8e8e9a" stroke-width="0.55"/>
<path d="M212.61,460.56 A85.8,85.8 0 0 1 205.06,470.81 L200.81,467.17 A80.2,80.2 0 0 0 207.86,457.58 Z" fill="none" stroke="#555" stroke-width="0.65"/>
<path d="M198.94,474.04 A83.5,83.5 0 0 1 181.73,487.27 L180.07,484.41 A80.2,80.2 0 0 0 196.61,471.71 Z" fill="#faf5d8"/>
<path d="M200.57,475.67 A85.8,85.8 0 0 1 182.88,489.26 L181.73,487.27 A83.5,83.5 0 0 0 198.94,474.04 Z" fill="#e8141c"/>
<path d="M199.23,477.12L200.96,478.93M197.79,478.46L199.48,480.31M196.32,479.77L197.96,481.66M194.82,481.05L196.42,482.97M191.73,483.5L193.24,485.49M190.15,484.67L191.61,486.7M188.54,485.8L189.95,487.86M186.9,486.9L188.27,488.99M183.56,488.98L184.83,491.13" stroke="#f07a84" stroke-width="0.5"/>
<path d="M200.57,475.67L204.03,479.13M193.23,482.21L196.27,486.05M185.19,487.87L187.77,492.04" stroke="#7a7a86" stroke-width="0.45"/>
<path d="M202.83,477.93 A89,89 0 0 1 184.48,492.03" fill="none" stroke="#8e8e9a" stroke-width="0.55"/>
<path d="M200.57,475.67 A85.8,85.8 0 0 1 182.88,489.26 L180.07,484.41 A80.2,80.2 0 0 0 196.61,471.71 Z" fill="none" stroke="#555" stroke-width="0.65"/>
<path d="M176.82,489.9 A83.5,83.5 0 0 1 147.71,498.13 L147.41,494.85 A80.2,80.2 0 0 0 175.36,486.94 Z" fill="#faf5d8"/>
<path d="M177.83,491.96 A85.8,85.8 0 0 1 147.93,500.42 L147.71,498.13 A83.5,83.5 0 0 0 176.82,489.9 Z" fill="#e8141c"/>
<path d="M176.1,492.9L177.16,495.17M174.31,493.71L175.31,496M172.49,494.48L173.44,496.79M170.66,495.2L171.56,497.54M166.95,496.53L167.74,498.9M165.07,497.13L165.81,499.52M163.18,497.68L163.86,500.09M161.28,498.2L161.9,500.62M157.44,499.09L157.95,501.54M155.51,499.47L155.96,501.93M153.57,499.81L153.97,502.27M151.62,500.1L151.96,502.57" stroke="#f07a84" stroke-width="0.5"/>
<path d="M177.83,491.96L180,496.35M168.78,495.79L170.43,500.41M159.34,498.57L160.46,503.34M149.65,500.24L150.21,505.11" stroke="#7a7a86" stroke-width="0.45"/>
<path d="M179.25,494.83 A89,89 0 0 1 148.23,503.61" fill="none" stroke="#8e8e9a" stroke-width="0.55"/>
<path d="M177.83,491.96 A85.8,85.8 0 0 1 147.93,500.42 L147.41,494.85 A80.2,80.2 0 0 0 175.36,486.94 Z" fill="none" stroke="#555" stroke-width="0.65"/>
<path d="M141.85,498.48 A83.5,83.5 0 0 1 118.34,495.67 L119.2,492.48 A80.2,80.2 0 0 0 141.78,495.18 Z" fill="#faf5d8"/>
<path d="M141.91,500.78 A85.8,85.8 0 0 1 117.75,497.89 L118.34,495.67 A83.5,83.5 0 0 0 141.85,498.48 Z" fill="#e8141c"/>
<path d="M139.94,500.9L139.94,503.4M137.97,500.88L137.91,503.38M136,500.81L135.89,503.31M134.03,500.7L133.86,503.19M130.11,500.34L129.82,502.82M128.15,500.09L127.81,502.57M126.21,499.8L125.81,502.27M124.26,499.47L123.81,501.92M120.41,498.66L119.84,501.09M118.49,498.19L117.87,500.61" stroke="#f07a84" stroke-width="0.5"/>
<path d="M141.91,500.78L142.02,505.68M132.08,500.44L131.63,505.32M122.35,498.99L121.35,503.78" stroke="#7a7a86" stroke-width="0.45"/>
<path d="M141.98,503.98 A89,89 0 0 1 116.93,500.98" fill="none" stroke="#8e8e9a" stroke-width="0.55"/>
<path d="M141.91,500.78 A85.8,85.8 0 0 1 117.75,497.89 L119.2,492.48 A80.2,80.2 0 0 0 141.78,495.18 Z" fill="none" stroke="#555" stroke-width="0.65"/>
<path d="M113.32,494.16 A83.5,83.5 0 0 1 98.59,487.57 L100.23,484.7 A80.2,80.2 0 0 0 114.37,491.03 Z" fill="#faf5d8"/>
<path d="M112.59,496.34 A85.8,85.8 0 0 1 97.45,489.57 L98.59,487.57 A83.5,83.5 0 0 0 113.32,494.16 Z" fill="#e8141c"/>
<path d="M110.7,495.78L109.85,498.14M108.85,495.09L107.95,497.42M107.02,494.36L106.07,496.67M105.21,493.59L104.2,495.87M101.65,491.91L100.53,494.15M99.89,491.01L98.73,493.23M98.16,490.08L96.94,492.26" stroke="#f07a84" stroke-width="0.5"/>
<path d="M112.59,496.34L111.03,500.98M103.46,492.68L101.38,497.11" stroke="#7a7a86" stroke-width="0.45"/>
<path d="M111.57,499.37 A89,89 0 0 1 95.87,492.35" fill="none" stroke="#8e8e9a" stroke-width="0.55"/>
<path d="M112.59,496.34 A85.8,85.8 0 0 1 97.45,489.57 L100.23,484.7 A80.2,80.2 0 0 0 114.37,491.03 Z" fill="none" stroke="#555" stroke-width="0.65"/>
<path d="M94.01,484.76 A83.5,83.5 0 0 1 84.22,477.23 L86.42,474.77 A80.2,80.2 0 0 0 95.82,482 Z" fill="#faf5d8"/>
<path d="M92.74,486.68 A85.8,85.8 0 0 1 82.69,478.94 L84.22,477.23 A83.5,83.5 0 0 0 94.01,484.76 Z" fill="#e8141c"/>
<path d="M91.06,485.66L89.63,487.72M89.45,484.52L87.98,486.55M87.87,483.35L86.35,485.34M86.31,482.14L84.75,484.09M83.29,479.61L81.64,481.49" stroke="#f07a84" stroke-width="0.5"/>
<path d="M92.74,486.68L90.05,490.77M84.85,480.81L81.71,484.57" stroke="#7a7a86" stroke-width="0.45"/>
<path d="M90.99,489.35 A89,89 0 0 1 80.56,481.33" fill="none" stroke="#8e8e9a" stroke-width="0.55"/>
<path d="M92.74,486.68 A85.8,85.8 0 0 1 82.69,478.94 L86.42,474.77 A80.2,80.2 0 0 0 95.82,482 Z" fill="none" stroke="#555" stroke-width="0.65"/>
<path d="M80.67,473.86 A83.5,83.5 0 0 1 65.7,453.3 L68.63,451.78 A80.2,80.2 0 0 0 83.01,471.53 Z" fill="#faf5d8"/>
<path d="M79.04,475.48 A85.8,85.8 0 0 1 63.66,454.35 L65.7,453.3 A83.5,83.5 0 0 0 80.67,473.86 Z" fill="#e8141c"/>
<path d="M77.6,474.14L75.78,475.86M76.26,472.69L74.4,474.37M74.95,471.22L73.06,472.85M73.68,469.71L71.75,471.3M71.24,466.62L69.24,468.12M70.07,465.03L68.04,466.49M68.94,463.42L66.88,464.82M67.85,461.78L65.76,463.14M65.78,458.42L63.63,459.69M64.81,456.71L62.62,457.93M63.87,454.98L61.66,456.14" stroke="#f07a84" stroke-width="0.5"/>
<path d="M79.04,475.48L75.56,478.93M72.52,468.12L68.67,471.15M66.88,460.06L62.71,462.63" stroke="#7a7a86" stroke-width="0.45"/>
<path d="M76.77,477.73 A89,89 0 0 1 60.81,455.82" fill="none" stroke="#8e8e9a" stroke-width="0.55"/>
<path d="M79.04,475.48 A85.8,85.8 0 0 1 63.66,454.35 L68.63,451.78 A80.2,80.2 0 0 0 83.01,471.53 Z" fill="none" stroke="#555" stroke-width="0.65"/>
<path d="M63.42,448.52 A83.5,83.5 0 0 1 58.79,434.83 L62,434.05 A80.2,80.2 0 0 0 66.45,447.2 Z" fill="#faf5d8"/>
<path d="M61.32,449.45 A85.8,85.8 0 0 1 56.56,435.38 L58.79,434.83 A83.5,83.5 0 0 0 63.42,448.52 Z" fill="#e8141c"/>
<path d="M60.46,447.67L58.14,448.62M59.73,445.84L57.39,446.74M59.04,444L56.69,444.84M58.4,442.13L56.03,442.92M57.24,438.37L54.83,439.05M56.73,436.47L54.3,437.09" stroke="#f07a84" stroke-width="0.5"/>
<path d="M61.32,449.45L56.83,451.41M57.89,440.23L53.21,441.67" stroke="#7a7a86" stroke-width="0.45"/>
<path d="M58.39,450.73 A89,89 0 0 1 53.45,436.14" fill="none" stroke="#8e8e9a" stroke-width="0.55"/>
<path d="M61.32,449.45 A85.8,85.8 0 0 1 56.56,435.38 L62,434.05 A80.2,80.2 0 0 0 66.45,447.2 Z" fill="none" stroke="#555" stroke-width="0.65"/>
<path d="M57.65,429.41 A83.5,83.5 0 0 1 56.67,408.33 L59.96,408.6 A80.2,80.2 0 0 0 60.9,428.84 Z" fill="#faf5d8"/>
<path d="M55.39,429.81 A85.8,85.8 0 0 1 54.37,408.15 L56.67,408.33 A83.5,83.5 0 0 0 57.65,429.41 Z" fill="#e8141c"/>
<path d="M54.97,427.88L52.5,428.26M54.7,425.93L52.22,426.25M54.47,423.98L51.98,424.24M54.29,422.01L51.8,422.22M54.06,418.08L51.56,418.17M54.01,416.11L51.51,416.14M54,414.14L51.5,414.12M54.05,412.17L51.55,412.09M54.27,408.24L51.77,408.04" stroke="#f07a84" stroke-width="0.5"/>
<path d="M55.39,429.81L50.56,430.66M54.25,420.04L49.36,420.33M54.23,410.21L49.34,409.94" stroke="#7a7a86" stroke-width="0.45"/>
<path d="M52.24,430.36 A89,89 0 0 1 51.18,407.89" fill="none" stroke="#8e8e9a" stroke-width="0.55"/>
<path d="M55.39,429.81 A85.8,85.8 0 0 1 54.37,408.15 L59.96,408.6 A80.2,80.2 0 0 0 60.9,428.84 Z" fill="none" stroke="#555" stroke-width="0.65"/>
<path d="M146.02,332.83 A82.4,82.4 0 0 1 148.78,333.08" fill="none" stroke="#f3e59c" stroke-width="1.7"/>
<path d="M147.21,334.93L147.51,331.75" stroke="#6e5566" stroke-width="1.0"/>
<path d="M147.51,331.75L147.85,327.96" stroke="#ec6b78" stroke-width="1.0"/>
<path d="M166.62,337.05 A82.4,82.4 0 0 1 222.15,409.97" fill="none" stroke="#f3e59c" stroke-width="1.7"/>
<path d="M170.02,340.45L171.22,337.49M175.77,343.05L177.2,340.18M180.95,345.87L182.58,343.12M186.02,349.14L187.85,346.52M190.39,352.43L192.4,349.94M196.15,357.56L198.39,355.27M200.95,362.68L203.38,360.6M205.44,368.43L208.04,366.57M209.67,375.04L212.45,373.45M213.06,381.66L215.97,380.33M215.97,388.96L218.99,387.92M217.6,394.33L220.69,393.5M219,400.62L222.15,400.05M219.96,407.57L223.14,407.28" stroke="#6e5566" stroke-width="1.0"/>
<path d="M171.22,337.49L172.64,333.96M177.2,340.18L178.9,336.78M182.58,343.12L184.52,339.85M187.85,346.52L190.03,343.41M192.4,349.94L194.78,346.98M198.39,355.27L201.05,352.56M203.38,360.6L206.26,358.12M208.04,366.57L211.14,364.37M212.45,373.45L215.74,371.56M215.97,380.33L219.43,378.76M218.99,387.92L222.59,386.69M220.69,393.5L224.36,392.53M222.15,400.05L225.89,399.37M223.14,407.28L226.93,406.93" stroke="#ec6b78" stroke-width="1.0"/>
<circle cx="193.2" cy="349.18" r="1.3" fill="#e01c2c"/>
<path d="M192.56,346.12 A86.7,86.7 0 0 1 196.32,349.17 L192.42,353.73 A80.7,80.7 0 0 0 188.92,350.89 Z" fill="none" stroke="#6a6a6a" stroke-width="0.5"/>
<circle cx="199.37" cy="354.69" r="1.3" fill="#e01c2c"/>
<path d="M199.03,351.59 A86.7,86.7 0 0 1 202.48,354.99 L198.15,359.14 A80.7,80.7 0 0 0 194.94,355.98 Z" fill="none" stroke="#6a6a6a" stroke-width="0.5"/>
<circle cx="209.03" cy="366.06" r="1.3" fill="#e01c2c"/>
<path d="M209.23,362.94 A86.7,86.7 0 0 1 212.03,366.89 L207.04,370.22 A80.7,80.7 0 0 0 204.43,366.55 Z" fill="none" stroke="#6a6a6a" stroke-width="0.5"/>
<circle cx="213.4" cy="372.91" r="1.3" fill="#e01c2c"/>
<path d="M213.9,369.83 A86.7,86.7 0 0 1 216.31,374.03 L211.02,376.87 A80.7,80.7 0 0 0 208.78,372.95 Z" fill="none" stroke="#6a6a6a" stroke-width="0.5"/>
<circle cx="224.24" cy="407.18" r="1.3" fill="#e01c2c"/>
<path d="M225.97,404.58 A86.7,86.7 0 0 1 226.42,409.41 L220.43,409.79 A80.7,80.7 0 0 0 220.02,405.3 Z" fill="none" stroke="#6a6a6a" stroke-width="0.5"/>
<path d="M50.4,415.3L48.4,415.3L45.7,415.31L44.5,415.32" fill="none" stroke="#666" stroke-width="0.4"/>
<text x="43.9" y="415.32" transform="rotate(-0.19 43.9 415.32)" text-anchor="end" dy="0.35em">Pe14-3-3like17</text>
<path d="M50.75,422.89L48.76,423.07L46.07,423.31L44.87,423.41" fill="none" stroke="#666" stroke-width="0.4"/>
<text x="44.27" y="423.47" transform="rotate(-5.06 44.27 423.47)" text-anchor="end" dy="0.35em">Pe14-3-3like5</text>
<path d="M51.28,427.53L49.3,427.81L46.63,428.19L45.44,428.36" fill="none" stroke="#666" stroke-width="0.4"/>
<text x="44.85" y="428.44" transform="rotate(-8.05 44.85 428.44)" text-anchor="end" dy="0.35em">Pe14-3-3like7</text>
<path d="M54.43,441.54L52.52,442.13L49.94,442.93L48.79,443.29" fill="none" stroke="#666" stroke-width="0.4"/>
<text x="48.22" y="443.47" transform="rotate(-17.25 48.22 443.47)" text-anchor="end" dy="0.35em">Pe14-3-3like6</text>
<path d="M56.05,446.29L54.17,446.98L51.64,447.93L50.52,448.35" fill="none" stroke="#666" stroke-width="0.4"/>
<text x="49.96" y="448.56" transform="rotate(-20.46 49.96 448.56)" text-anchor="end" dy="0.35em">Pe14-3-3d</text>
<path d="M57.56,450.07L55.72,450.85L53.5,452.53L52.4,453.01" fill="none" stroke="#666" stroke-width="0.4"/>
<text x="51.85" y="453.25" transform="rotate(-23.48 51.85 453.25)" text-anchor="end" dy="0.35em">Pe14-3-3h</text>
<path d="M66.84,466.69L65.2,467.85L63,469.41L62.02,470.1" fill="none" stroke="#666" stroke-width="0.4"/>
<text x="61.53" y="470.45" transform="rotate(-35.28 61.53 470.45)" text-anchor="end" dy="0.35em">Pe14-3-3like4</text>
<path d="M73.67,475.2L72.19,476.55L70.19,478.36L69.31,479.17" fill="none" stroke="#666" stroke-width="0.4"/>
<text x="68.86" y="479.57" transform="rotate(-42.27 68.86 479.57)" text-anchor="end" dy="0.35em">Pe14-3-3c</text>
<path d="M82.48,483.65L81.2,485.19L79.46,487.26L78.69,488.18" fill="none" stroke="#666" stroke-width="0.4"/>
<text x="78.31" y="488.64" transform="rotate(-50.09 78.31 488.64)" text-anchor="end" dy="0.35em">Pe14-3-3n</text>
<path d="M100.48,495.35L99.6,497.15L98.41,499.57L97.88,500.65" fill="none" stroke="#666" stroke-width="0.4"/>
<text x="97.62" y="501.19" transform="rotate(-63.87 97.62 501.19)" text-anchor="end" dy="0.35em">Pe14-3-3like3</text>
<path d="M105.13,497.47L104.35,499.31L103.31,501.8L102.84,502.91" fill="none" stroke="#666" stroke-width="0.4"/>
<text x="102.61" y="503.46" transform="rotate(-67.14 102.61 503.46)" text-anchor="end" dy="0.35em">Pe14-3-3like2</text>
<path d="M120.85,502.45L120.42,504.4L119.85,507.04L119.59,508.21" fill="none" stroke="#666" stroke-width="0.4"/>
<text x="119.47" y="508.8" transform="rotate(-77.71 119.47 508.8)" text-anchor="end" dy="0.35em">Pe14-3-3b</text>
<path d="M125.73,503.37L125.41,505.35L124.99,508.01L124.8,509.2" fill="none" stroke="#666" stroke-width="0.4"/>
<text x="124.7" y="509.79" transform="rotate(-80.89 124.7 509.79)" text-anchor="end" dy="0.35em">Pe14-3-3like16</text>
<path d="M132.91,504.23L132.75,506.22L132.54,508.91L132.45,510.11" fill="none" stroke="#666" stroke-width="0.4"/>
<text x="132.4" y="510.71" transform="rotate(-85.52 132.4 510.71)" text-anchor="end" dy="0.35em">Pe14-3-3i</text>
<path d="M149.44,503.99L149.65,505.98L149.94,508.66L150.07,509.86" fill="none" stroke="#666" stroke-width="0.4"/>
<text x="150.13" y="510.45" transform="rotate(83.88 150.13 510.45)" text-anchor="start" dy="0.35em">Pe14-3-3like19</text>
<path d="M154.53,503.3L154.86,505.27L155.3,507.93L155.5,509.12" fill="none" stroke="#666" stroke-width="0.4"/>
<text x="155.6" y="509.71" transform="rotate(80.59 155.6 509.71)" text-anchor="start" dy="0.35em">Pe14-3-3j</text>
<path d="M159.42,502.34L159.86,504.3L160.45,506.93L160.71,508.1" fill="none" stroke="#666" stroke-width="0.4"/>
<text x="160.84" y="508.69" transform="rotate(77.4 160.84 508.69)" text-anchor="start" dy="0.35em">Pe14-3-3like1</text>
<path d="M164.25,501.12L164.8,503.05L165.53,505.65L165.86,506.8" fill="none" stroke="#666" stroke-width="0.4"/>
<text x="166.02" y="507.38" transform="rotate(74.21 166.02 507.38)" text-anchor="start" dy="0.35em">Pe14-3-3h</text>
<path d="M168.86,499.68L169.51,501.58L170.38,504.13L170.77,505.27" fill="none" stroke="#666" stroke-width="0.4"/>
<text x="170.96" y="505.84" transform="rotate(71.12 170.96 505.84)" text-anchor="start" dy="0.35em">Pe14-3-3like15</text>
<path d="M186.17,491.61L187.2,493.32L188.6,495.63L189.22,496.66" fill="none" stroke="#666" stroke-width="0.4"/>
<text x="189.53" y="497.18" transform="rotate(58.87 189.53 497.18)" text-anchor="start" dy="0.35em">Pe14-3-3like14</text>
<path d="M193.22,486.88L194.42,488.49L196.02,490.65L196.74,491.62" fill="none" stroke="#666" stroke-width="0.4"/>
<text x="197.1" y="492.1" transform="rotate(53.43 197.1 492.1)" text-anchor="start" dy="0.35em">Pe14-3-3f</text>
<path d="M199.44,481.82L200.77,483.32L202.56,485.33L203.36,486.23" fill="none" stroke="#666" stroke-width="0.4"/>
<text x="203.76" y="486.68" transform="rotate(48.3 203.76 486.68)" text-anchor="start" dy="0.35em">Pe14-3-3g</text>
<path d="M202.52,478.95L203.92,480.37L208.95,479.08L209.83,479.89" fill="none" stroke="#666" stroke-width="0.4"/>
<text x="210.27" y="480.3" transform="rotate(42.86 210.27 480.3)" text-anchor="start" dy="0.35em">Pe14-3-3like20</text>
<path d="M209.39,471.41L210.94,472.67L213.03,474.37L213.97,475.13" fill="none" stroke="#666" stroke-width="0.4"/>
<text x="214.43" y="475.51" transform="rotate(39.07 214.43 475.51)" text-anchor="start" dy="0.35em">Pe14-3-3m</text>
<path d="M213.41,466.05L215.05,467.19L217.27,468.73L218.26,469.42" fill="none" stroke="#666" stroke-width="0.4"/>
<text x="218.75" y="469.76" transform="rotate(34.78 218.75 469.76)" text-anchor="start" dy="0.35em">Pe14-3-3a</text>
<path d="M221.22,452.38L223.04,453.22L225.49,454.35L226.58,454.85" fill="none" stroke="#666" stroke-width="0.4"/>
<text x="227.12" y="455.1" transform="rotate(24.69 227.12 455.1)" text-anchor="start" dy="0.35em">Pe14-3-3like13</text>
<path d="M229.07,422.69L231.06,422.86L233.75,423.1L234.95,423.2" fill="none" stroke="#666" stroke-width="0.4"/>
<text x="235.54" y="423.25" transform="rotate(4.93 235.54 423.25)" text-anchor="start" dy="0.35em">Pe14-3-3o</text>
<path d="M59.19,376.33L57.38,375.46L54.95,374.3L53.87,373.78" fill="none" stroke="#666" stroke-width="0.4"/>
<text x="53.32" y="373.52" transform="rotate(25.6 53.32 373.52)" text-anchor="end" dy="0.35em">Pe14-3-3k</text>
<path d="M76.17,352.16L74.75,350.75L72.83,348.86L71.97,348.01" fill="none" stroke="#666" stroke-width="0.4"/>
<text x="71.55" y="347.59" transform="rotate(44.6 71.55 347.59)" text-anchor="end" dy="0.35em">Pe14-3-3l</text>
<path d="M86.75,342.99L85.56,341.38L83.96,339.21L83.25,338.24" fill="none" stroke="#666" stroke-width="0.4"/>
<text x="82.89" y="337.76" transform="rotate(53.57 82.89 337.76)" text-anchor="end" dy="0.35em">Pe14-3-3like8</text>
<path d="M101.19,334.31L100.32,332.5L99.15,330.07L98.63,328.99" fill="none" stroke="#666" stroke-width="0.4"/>
<text x="98.37" y="328.45" transform="rotate(64.37 98.37 328.45)" text-anchor="end" dy="0.35em">Pe14-3-3like9</text>
<path d="M117.17,328.43L116.67,326.5L114.55,324.27L114.23,323.12" fill="none" stroke="#666" stroke-width="0.4"/>
<text x="114.07" y="322.54" transform="rotate(74.39 114.07 322.54)" text-anchor="end" dy="0.35em">Pe14-3-3like10</text>
<path d="M140.87,325.51L140.89,323.51L140.92,320.81L140.93,319.61" fill="none" stroke="#666" stroke-width="0.4"/>
<text x="140.94" y="319.01" transform="rotate(-89.38 140.94 319.01)" text-anchor="start" dy="0.35em">Pe14-3-3like18</text>
<path d="M147.48,325.82L147.65,323.83L146.83,321.06L146.92,319.86" fill="none" stroke="#666" stroke-width="0.4"/>
<text x="146.96" y="319.26" transform="rotate(-85.78 146.96 319.26)" text-anchor="start" dy="0.35em">Pe14-3-3like11</text>
<path d="M164.15,328.85L164.69,326.92L165.42,324.32L165.75,323.17" fill="none" stroke="#666" stroke-width="0.4"/>
<text x="165.91" y="322.59" transform="rotate(-74.28 165.91 322.59)" text-anchor="start" dy="0.35em">Pe14-3-3like12</text>
<path d="M172.11,331.5L172.82,329.63L173.8,327.11L174.23,325.99" fill="none" stroke="#666" stroke-width="0.4"/>
<text x="174.44" y="325.43" transform="rotate(-68.91 174.44 325.43)" text-anchor="start" dy="0.35em">Pe14-3-3like21</text>
<path d="M179.09,334.54L179.97,332.74L181.15,330.31L181.68,329.23" fill="none" stroke="#666" stroke-width="0.4"/>
<text class="up" x="181.94" y="328.69" transform="rotate(-64.03 181.94 328.69)" text-anchor="start" dy="0.35em">Ba14-3-3g</text>
<path d="M185.82,338.18L186.85,336.46L188.23,334.14L188.85,333.11" fill="none" stroke="#666" stroke-width="0.4"/>
<text class="up" x="189.16" y="332.6" transform="rotate(-59.13 189.16 332.6)" text-anchor="start" dy="0.35em">Ba14-3-3k</text>
<path d="M192.22,342.38L193.38,340.76L194.96,338.57L195.66,337.6" fill="none" stroke="#666" stroke-width="0.4"/>
<text class="up" x="196.02" y="337.11" transform="rotate(-54.23 196.02 337.11)" text-anchor="start" dy="0.35em">Ba14-3-3h</text>
<path d="M198.24,347.13L199.54,345.61L201.3,343.56L202.08,342.65" fill="none" stroke="#666" stroke-width="0.4"/>
<text class="up" x="202.48" y="342.2" transform="rotate(-49.32 202.48 342.2)" text-anchor="start" dy="0.35em">Ba14-3-3e</text>
<path d="M203.85,352.38L205.27,350.98L207.2,349.09L208.06,348.25" fill="none" stroke="#666" stroke-width="0.4"/>
<text class="up" x="208.49" y="347.83" transform="rotate(-44.4 208.49 347.83)" text-anchor="start" dy="0.35em">Ba14-3-3c</text>
<path d="M208.99,358.11L210.53,356.84L212.62,355.12L213.54,354.36" fill="none" stroke="#666" stroke-width="0.4"/>
<text class="up" x="214.01" y="353.98" transform="rotate(-39.47 214.01 353.98)" text-anchor="start" dy="0.35em">Ba14-3-3f</text>
<path d="M213.63,364.27L215.28,363.13L217.5,361.6L218.49,360.92" fill="none" stroke="#666" stroke-width="0.4"/>
<text class="up" x="218.99" y="360.58" transform="rotate(-34.53 218.99 360.58)" text-anchor="start" dy="0.35em">Ba14-3-3d</text>
<path d="M217.74,370.82L219.47,369.83L221.82,368.5L222.87,367.91" fill="none" stroke="#666" stroke-width="0.4"/>
<text class="up" x="223.39" y="367.61" transform="rotate(-29.58 223.39 367.61)" text-anchor="start" dy="0.35em">Ba14-3-3b</text>
<path d="M220.94,377.02L222.75,376.17L225.2,375.03L226.28,374.52" fill="none" stroke="#666" stroke-width="0.4"/>
<text class="up" x="226.83" y="374.26" transform="rotate(-25.11 226.83 374.26)" text-anchor="start" dy="0.35em">Ba14-3-3a</text>
<path d="M223.66,383.47L225.53,382.76L228.06,381.81L229.18,381.39" fill="none" stroke="#666" stroke-width="0.4"/>
<text class="up" x="229.74" y="381.18" transform="rotate(-20.63 229.74 381.18)" text-anchor="start" dy="0.35em">Ba14-3-3i</text>
<path d="M226.08,390.86L228.01,390.32L230.61,389.59L231.76,389.26" fill="none" stroke="#666" stroke-width="0.4"/>
<text class="up" x="232.34" y="389.1" transform="rotate(-15.65 232.34 389.1)" text-anchor="start" dy="0.35em">Ba14-3-3m</text>
<path d="M227.86,398.46L229.82,398.09L232.48,397.59L233.66,397.37" fill="none" stroke="#666" stroke-width="0.4"/>
<text class="up" x="234.25" y="397.26" transform="rotate(-10.65 234.25 397.26)" text-anchor="start" dy="0.35em">Ba14-3-3l</text>
<path d="M229.04,406.98L231.03,406.8L233.72,406.56L234.92,406.45" fill="none" stroke="#666" stroke-width="0.4"/>
<text class="up" x="235.51" y="406.4" transform="rotate(-5.14 235.51 406.4)" text-anchor="start" dy="0.35em">Ba14-3-3j</text>
</g>
<path d="M334.9,315.8 L334.9,501.3 L524,501.3" fill="none" stroke="#a8a8a8" stroke-width="1.1"/>
<path d="M334.4,316 h-2" stroke="#666" stroke-width="0.8"/>
<text x="330.8" y="316.5" dy="0.38em" text-anchor="end" class="ax">0.40</text>
<path d="M334.4,360 h-2" stroke="#666" stroke-width="0.8"/>
<text x="330.8" y="360.5" dy="0.38em" text-anchor="end" class="ax">0.30</text>
<path d="M334.4,404 h-2" stroke="#666" stroke-width="0.8"/>
<text x="330.8" y="404.5" dy="0.38em" text-anchor="end" class="ax">0.20</text>
<path d="M334.4,448 h-2" stroke="#666" stroke-width="0.8"/>
<text x="330.8" y="448.5" dy="0.38em" text-anchor="end" class="ax">0.10</text>
<path d="M334.4,492 h-2" stroke="#666" stroke-width="0.8"/>
<text x="330.8" y="492.5" dy="0.38em" text-anchor="end" class="ax">0.00</text>
<text x="0" y="0" transform="translate(309.5 407) rotate(-90)" text-anchor="middle" class="axi">Ka/Ks</text>
<path d="M361.8,412.8V435.6M361.8,465.4V469.8" stroke="#f5a3a3" stroke-width="0.9"/>
<rect x="345.8" y="435.6" width="32" height="29.8" fill="none" stroke="#f5a3a3" stroke-width="0.9"/>
<path d="M345.8,458.4H377.8" stroke="#ee7777" stroke-width="1.4"/>
<path d="M361.8,501.5v3.8" stroke="#777" stroke-width="0.8"/>
<text x="361.8" y="518.3" text-anchor="middle" class="ax">Pe-Pe</text>
<path d="M406.9,357.4V402.3M406.9,473.3V480.3" stroke="#c2cc6e" stroke-width="0.9"/>
<rect x="390.7" y="402.3" width="31.8" height="71" fill="none" stroke="#c2cc6e" stroke-width="0.9"/>
<path d="M390.7,452.3H422.5" stroke="#a9b84a" stroke-width="1.4"/>
<path d="M406.9,501.5v3.8" stroke="#777" stroke-width="0.8"/>
<text x="406.9" y="518.3" text-anchor="middle" class="ax">Pe-Os</text>
<path d="M452,426.4V452.5M452,470.2V482.9" stroke="#d8b8f2" stroke-width="0.9"/>
<rect x="436.2" y="452.5" width="31.5" height="17.7" fill="none" stroke="#d8b8f2" stroke-width="0.9"/>
<path d="M436.2,463.9H467.7" stroke="#c496ec" stroke-width="1.4"/>
<path d="M452,501.5v3.8" stroke="#777" stroke-width="0.8"/>
<text x="452" y="518.3" text-anchor="middle" class="ax">Pe-Ol</text>
<path d="M496.4,392.7V436.1M496.4,466.5V473.7" stroke="#7fd8d8" stroke-width="0.9"/>
<rect x="480.7" y="436.1" width="31.7" height="30.4" fill="none" stroke="#7fd8d8" stroke-width="0.9"/>
<path d="M480.7,453.1H512.4" stroke="#33bfc4" stroke-width="1.4"/>
<path d="M496.4,501.5v3.8" stroke="#777" stroke-width="0.8"/>
<text x="496.4" y="518.3" text-anchor="middle" class="ax">Pe-Ba</text>
<text x="2" y="14.6" class="pl">a</text>
<text x="286.6" y="15.7" class="pl" style="font-weight:normal">b</text>
<text x="4.3" y="299.3" class="pl">c</text>
<text x="291.9" y="296.2" class="pl" style="font-size:11.5px">d</text>
</g>
</svg>
</body></html>
